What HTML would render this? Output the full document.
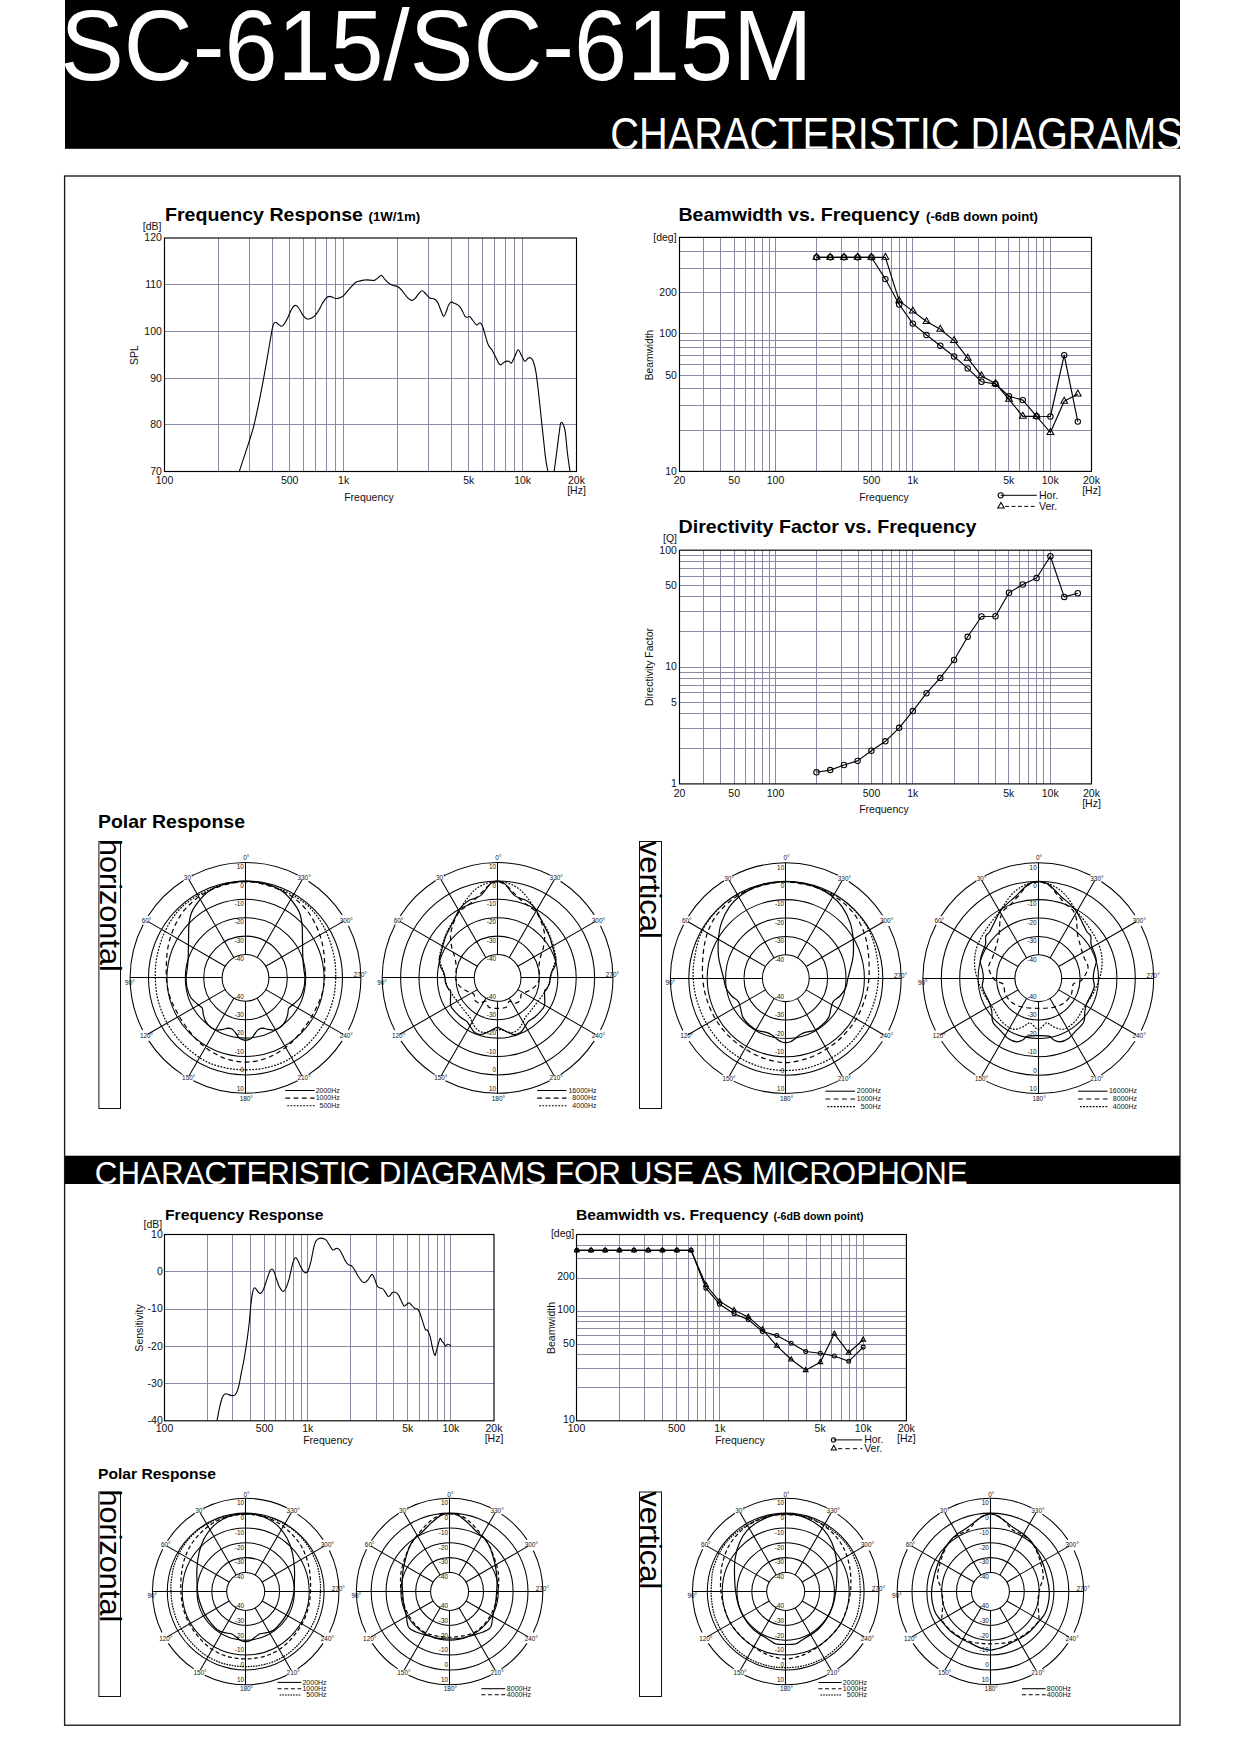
<!DOCTYPE html>
<html lang="en"><head><meta charset="utf-8"><title>SC-615/SC-615M Characteristic Diagrams</title>
<style>html,body{margin:0;padding:0;background:#fff}body{width:1240px;height:1753px;overflow:hidden}svg{display:block;font-family:"Liberation Sans",Arial,Helvetica,sans-serif}</style></head><body>
<svg width="1240" height="1753" viewBox="0 0 1240 1753">
<defs><clipPath id="cb1"><rect x="64" y="0" width="1116" height="148.8"/></clipPath><clipPath id="cb2"><rect x="64" y="1155.7" width="1116" height="28.3"/></clipPath></defs>
<rect x="65" y="0" width="1115" height="148.8" fill="#000"/>
<g clip-path="url(#cb1)">
<text x="60.3" y="79.7" font-size="100" textLength="752" lengthAdjust="spacingAndGlyphs" fill="#fff">SC-615/SC-615M</text>
<text x="1182.8" y="150.3" font-size="46" text-anchor="end" textLength="572.5" lengthAdjust="spacingAndGlyphs" fill="#fff">CHARACTERISTIC DIAGRAMS</text>
</g>
<rect x="64.6" y="176" width="1115.4" height="1549.2" fill="none" stroke="#1a1a1a" stroke-width="1.35"/>
<text x="165" y="220.5" font-size="19" font-weight="bold" textLength="198" lengthAdjust="spacingAndGlyphs" fill="#000">Frequency Response</text>
<text x="368.6" y="220.5" font-size="12" font-weight="bold" textLength="51.5" lengthAdjust="spacingAndGlyphs" fill="#000">(1W/1m)</text>
<text x="161.5" y="229.8" font-size="10.5" text-anchor="end" fill="#111">[dB]</text>
<path d="M218.5 238V471.5M249.5 238V471.5M272.5 238V471.5M289.5 238V471.5M303.5 238V471.5M315.5 238V471.5M326.5 238V471.5M335.5 238V471.5M343.5 238V471.5M397.5 238V471.5M428.5 238V471.5M451.5 238V471.5M468.5 238V471.5M482.5 238V471.5M494.5 238V471.5M505.5 238V471.5M514.5 238V471.5M522.5 238V471.5M164.5 424.5H576.5M164.5 378.5H576.5M164.5 331.5H576.5M164.5 284.5H576.5" stroke="#8a8aa6" stroke-width="1" fill="none"/>
<rect x="164.5" y="238" width="412" height="233.5" fill="none" stroke="#000" stroke-width="1.15"/>
<text x="164.5" y="484.1" font-size="10.5" text-anchor="middle" fill="#111">100</text>
<text x="289.7" y="484.1" font-size="10.5" text-anchor="middle" fill="#111">500</text>
<text x="343.6" y="484.1" font-size="10.5" text-anchor="middle" fill="#111">1k</text>
<text x="468.7" y="484.1" font-size="10.5" text-anchor="middle" fill="#111">5k</text>
<text x="522.6" y="484.1" font-size="10.5" text-anchor="middle" fill="#111">10k</text>
<text x="576.5" y="484.1" font-size="10.5" text-anchor="middle" fill="#111">20k</text>
<text x="576.5" y="494.1" font-size="10.5" text-anchor="middle" fill="#111">[Hz]</text>
<text x="161.9" y="241.4" font-size="10.5" text-anchor="end" fill="#111">120</text>
<text x="161.9" y="288.1" font-size="10.5" text-anchor="end" fill="#111">110</text>
<text x="161.9" y="334.8" font-size="10.5" text-anchor="end" fill="#111">100</text>
<text x="161.9" y="381.5" font-size="10.5" text-anchor="end" fill="#111">90</text>
<text x="161.9" y="428.2" font-size="10.5" text-anchor="end" fill="#111">80</text>
<text x="161.9" y="474.9" font-size="10.5" text-anchor="end" fill="#111">70</text>
<text x="369" y="501" font-size="10.5" text-anchor="middle" fill="#111">Frequency</text>
<text transform="translate(137.5 355) rotate(-90)" font-size="10.5" text-anchor="middle" fill="#111">SPL</text>
<path d="M239.3 471.3 C240.7 467 246.5 449.8 248.7 442.9 C250.9 436 252.4 431.6 254 425.2 C255.6 418.8 257.9 407.5 259.4 400.3 C260.8 393.1 262.5 384.5 263.8 377.3 C265.1 370.1 267 359.3 268.2 352.4 C269.4 345.5 271 335.4 271.8 331.1 C272.6 326.9 273 325.4 273.6 324 C274.1 322.7 274.9 322.2 275.7 322.3 C276.4 322.3 277.6 323.8 278.5 324.4 C279.4 325 280.7 326.4 281.5 326.3 C282.4 326.3 283.3 325.3 284.2 324 C285.1 322.8 286.7 320 287.8 317.8 C288.8 315.7 290.3 311.7 291.3 309.8 C292.3 308 293.5 306.4 294.3 305.8 C295.1 305.2 295.9 305.3 296.6 305.8 C297.4 306.2 298.4 307.5 299.3 309 C300.2 310.4 301.8 313.7 302.8 315.2 C303.9 316.6 305.3 318.2 306.4 318.7 C307.4 319.2 308.7 319.1 309.9 318.7 C311.1 318.3 313.2 317.1 314.4 316.1 C315.6 315 316.7 313.5 317.9 311.6 C319.1 309.8 321.2 305.6 322.3 303.6 C323.5 301.6 324.8 299.4 325.9 298.3 C327 297.2 328.4 296.5 329.4 296.4 C330.5 296.2 332.1 297.1 333 297.4 C333.9 297.7 334.7 298.4 335.7 298.5 C336.6 298.6 338 298.6 339.2 298.1 C340.4 297.7 342.2 297 343.6 295.6 C345.1 294.3 347.2 291.4 349 289.4 C350.7 287.5 353.6 283.9 355.2 282.7 C356.8 281.4 358 281.5 359.6 281.1 C361.2 280.7 364.1 280 365.8 279.9 C367.5 279.7 369.9 280.1 371.1 280.2 C372.4 280.3 373.4 280.7 374.4 280.4 C375.5 280 376.9 278.7 378 277.9 C379 277.1 380.5 275 381.5 275.2 C382.6 275.5 383.9 278.4 385.1 279.7 C386.3 281 388.2 282.9 389.5 283.8 C390.8 284.7 392.8 285.3 394 285.7 C395.2 286.1 396.3 285.7 397.5 286.4 C398.7 287.1 400.5 288.7 401.9 290.3 C403.4 292 405.8 295.9 407.3 297.4 C408.7 298.9 410.5 300.3 411.7 300.4 C412.9 300.6 414.2 299.3 415.2 298.3 C416.3 297.3 417.8 294.7 418.8 293.5 C419.8 292.4 421.1 290.8 422 290.7 C422.9 290.6 423.9 291.9 425 293 C426.1 294.1 428.1 296.9 429.4 297.8 C430.8 298.7 432.7 298.2 433.9 298.8 C435.1 299.5 436.4 300.1 437.4 301.9 C438.5 303.6 440 308.5 441 310.7 C441.9 312.9 442.9 316.1 443.6 316.4 C444.4 316.7 445.2 314.2 445.9 312.5 C446.7 310.9 447.7 307 448.4 305.4 C449.2 303.8 450.2 302.2 451.1 301.9 C452 301.5 453.3 302.8 454.3 303.3 C455.3 303.7 456.8 304.2 457.8 304.9 C458.8 305.6 459.8 306.4 460.8 308.1 C461.9 309.7 464 314.7 464.9 316.1 C465.9 317.4 466.5 317.2 467.2 317.3 C468 317.4 468.9 316.1 469.7 316.6 C470.6 317.1 471.9 319.2 472.9 320.5 C473.9 321.7 475.4 324.6 476.5 324.9 C477.5 325.3 479.1 322.5 480 322.8 C480.9 323.1 481.9 324.8 482.7 326.7 C483.5 328.6 484.5 332.8 485.3 335.6 C486.2 338.4 487.5 343.1 488.5 345.3 C489.6 347.6 491.3 348.8 492.4 350.7 C493.5 352.5 494.8 355.6 496 357.8 C497.1 359.9 498.7 364.3 500.1 364.8 C501.4 365.4 503.5 362.2 504.8 361.7 C506.2 361.1 507.9 361.1 508.9 361.3 C509.9 361.5 510.6 363.7 511.4 363.1 C512.3 362.4 513.6 358.9 514.6 356.9 C515.6 354.9 517.1 349.9 518.2 349.8 C519.2 349.6 520.7 354.2 521.7 356 C522.7 357.7 524 361 524.9 361.3 C525.8 361.6 527.1 358.8 527.9 358.3 C528.8 357.8 529.8 357.3 530.6 357.8 C531.4 358.2 532.4 359.2 533.2 361.3 C534 363.4 535.1 367.2 535.9 371.9 C536.7 376.7 537.8 386.3 538.6 393.2 C539.4 400.2 540.4 410.6 541.2 418.1 C542 425.5 543.2 436.8 543.9 442.9 C544.5 449 545.1 454.6 545.7 458.9 C546.2 463.1 547.5 469.4 547.8 471.3" fill="none" stroke="#000" stroke-width="1.1" stroke-linejoin="round"/>
<path d="M554.2 471.3 C554.6 468.2 556.5 453.7 557.2 448.2 C557.9 442.8 559 433.9 559.5 430.5 C560 427.1 560.3 423.8 560.7 422.9 C561.2 422 562.3 422.6 562.9 423.8 C563.5 424.9 564.6 427.6 565.2 431.4 C565.8 435.1 566.7 446.5 567.3 451.8 C567.9 457.1 569.6 468.7 570 471.3" fill="none" stroke="#000" stroke-width="1.1" stroke-linejoin="round"/>
<text x="678.5" y="220.5" font-size="19" font-weight="bold" textLength="241" lengthAdjust="spacingAndGlyphs" fill="#000">Beamwidth vs. Frequency</text>
<text x="926" y="220.5" font-size="12" font-weight="bold" textLength="112" lengthAdjust="spacingAndGlyphs" fill="#000">(-6dB down point)</text>
<text x="676.6" y="241.3" font-size="10.5" text-anchor="end" fill="#111">[deg]</text>
<path d="M703.5 237.4V471.4M720.5 237.4V471.4M734.5 237.4V471.4M745.5 237.4V471.4M754.5 237.4V471.4M762.5 237.4V471.4M769.5 237.4V471.4M775.5 237.4V471.4M816.5 237.4V471.4M841.5 237.4V471.4M858.5 237.4V471.4M871.5 237.4V471.4M882.5 237.4V471.4M891.5 237.4V471.4M899.5 237.4V471.4M906.5 237.4V471.4M912.5 237.4V471.4M954.5 237.4V471.4M978.5 237.4V471.4M995.5 237.4V471.4M1008.5 237.4V471.4M1019.5 237.4V471.4M1028.5 237.4V471.4M1036.5 237.4V471.4M1043.5 237.4V471.4M1050.5 237.4V471.4M679.5 430.5H1091.5M679.5 405.5H1091.5M679.5 388.5H1091.5M679.5 375.5H1091.5M679.5 364.5H1091.5M679.5 355.5H1091.5M679.5 347.5H1091.5M679.5 340.5H1091.5M679.5 333.5H1091.5M679.5 292.5H1091.5M679.5 268.5H1091.5M679.5 251.5H1091.5M679.5 237.5H1091.5" stroke="#8a8aa6" stroke-width="1" fill="none"/>
<rect x="679.5" y="237.4" width="412" height="234" fill="none" stroke="#000" stroke-width="1.15"/>
<text x="679.5" y="484" font-size="10.5" text-anchor="middle" fill="#111">20</text>
<text x="734.2" y="484" font-size="10.5" text-anchor="middle" fill="#111">50</text>
<text x="775.5" y="484" font-size="10.5" text-anchor="middle" fill="#111">100</text>
<text x="871.5" y="484" font-size="10.5" text-anchor="middle" fill="#111">500</text>
<text x="912.8" y="484" font-size="10.5" text-anchor="middle" fill="#111">1k</text>
<text x="1008.8" y="484" font-size="10.5" text-anchor="middle" fill="#111">5k</text>
<text x="1050.2" y="484" font-size="10.5" text-anchor="middle" fill="#111">10k</text>
<text x="1091.5" y="484" font-size="10.5" text-anchor="middle" fill="#111">20k</text>
<text x="1091.5" y="494" font-size="10.5" text-anchor="middle" fill="#111">[Hz]</text>
<text x="676.9" y="295.9" font-size="10.5" text-anchor="end" fill="#111">200</text>
<text x="676.9" y="337.3" font-size="10.5" text-anchor="end" fill="#111">100</text>
<text x="676.9" y="378.7" font-size="10.5" text-anchor="end" fill="#111">50</text>
<text x="676.9" y="474.8" font-size="10.5" text-anchor="end" fill="#111">10</text>
<text x="884" y="501" font-size="10.5" text-anchor="middle" fill="#111">Frequency</text>
<text transform="translate(653 355) rotate(-90)" font-size="10.5" text-anchor="middle" fill="#111" textLength="50.5" lengthAdjust="spacingAndGlyphs">Beamwidth</text>
<path d="M816.5 257.3 L830.2 257.3 L844 257.3 L857.6 257.3 L871.4 257.3 L885.4 279.1 L899.2 304.5 L912.8 323.6 L926.5 335 L940.3 345.7 L954.1 356.5 L967.7 368.4 L981.5 381.7 L995.5 383.9 L1009 396.2 L1022.8 400.1 L1036.6 416.3 L1050.4 416.5 L1064.2 355.1 L1077.8 421.6" fill="none" stroke="#000" stroke-width="1.15" stroke-linejoin="round"/>
<path d="M816.5 257.3 L830.2 257.3 L844 257.3 L857.6 257.3 L871.4 257.3 L885.4 257.3 L899.2 300.9 L912.8 311.1 L926.5 321.5 L940.3 329.2 L954.1 340.6 L967.7 358.2 L981.5 375.9 L995.5 383.6 L1009 399.4 L1022.8 416.3 L1036.6 416.3 L1050.4 432.5 L1064.2 401.3 L1077.8 394" fill="none" stroke="#000" stroke-width="1.15" stroke-linejoin="round"/>
<circle cx="816.5" cy="257.3" r="2.7" fill="none" stroke="#000" stroke-width="1.05"/>
<circle cx="830.2" cy="257.3" r="2.7" fill="none" stroke="#000" stroke-width="1.05"/>
<circle cx="844" cy="257.3" r="2.7" fill="none" stroke="#000" stroke-width="1.05"/>
<circle cx="857.6" cy="257.3" r="2.7" fill="none" stroke="#000" stroke-width="1.05"/>
<circle cx="871.4" cy="257.3" r="2.7" fill="none" stroke="#000" stroke-width="1.05"/>
<circle cx="885.4" cy="279.1" r="2.7" fill="none" stroke="#000" stroke-width="1.05"/>
<circle cx="899.2" cy="304.5" r="2.7" fill="none" stroke="#000" stroke-width="1.05"/>
<circle cx="912.8" cy="323.6" r="2.7" fill="none" stroke="#000" stroke-width="1.05"/>
<circle cx="926.5" cy="335" r="2.7" fill="none" stroke="#000" stroke-width="1.05"/>
<circle cx="940.3" cy="345.7" r="2.7" fill="none" stroke="#000" stroke-width="1.05"/>
<circle cx="954.1" cy="356.5" r="2.7" fill="none" stroke="#000" stroke-width="1.05"/>
<circle cx="967.7" cy="368.4" r="2.7" fill="none" stroke="#000" stroke-width="1.05"/>
<circle cx="981.5" cy="381.7" r="2.7" fill="none" stroke="#000" stroke-width="1.05"/>
<circle cx="995.5" cy="383.9" r="2.7" fill="none" stroke="#000" stroke-width="1.05"/>
<circle cx="1009" cy="396.2" r="2.7" fill="none" stroke="#000" stroke-width="1.05"/>
<circle cx="1022.8" cy="400.1" r="2.7" fill="none" stroke="#000" stroke-width="1.05"/>
<circle cx="1036.6" cy="416.3" r="2.7" fill="none" stroke="#000" stroke-width="1.05"/>
<circle cx="1050.4" cy="416.5" r="2.7" fill="none" stroke="#000" stroke-width="1.05"/>
<circle cx="1064.2" cy="355.1" r="2.7" fill="none" stroke="#000" stroke-width="1.05"/>
<circle cx="1077.8" cy="421.6" r="2.7" fill="none" stroke="#000" stroke-width="1.05"/>
<path d="M816.5 253.3L819.9 259.3L813.1 259.3Z" fill="none" stroke="#000" stroke-width="1.05"/>
<path d="M830.2 253.3L833.6 259.3L826.8 259.3Z" fill="none" stroke="#000" stroke-width="1.05"/>
<path d="M844 253.3L847.4 259.3L840.6 259.3Z" fill="none" stroke="#000" stroke-width="1.05"/>
<path d="M857.6 253.3L861 259.3L854.2 259.3Z" fill="none" stroke="#000" stroke-width="1.05"/>
<path d="M871.4 253.3L874.8 259.3L868 259.3Z" fill="none" stroke="#000" stroke-width="1.05"/>
<path d="M885.4 253.3L888.8 259.3L882 259.3Z" fill="none" stroke="#000" stroke-width="1.05"/>
<path d="M899.2 296.9L902.6 302.8L895.8 302.8Z" fill="none" stroke="#000" stroke-width="1.05"/>
<path d="M912.8 307.1L916.2 313L909.4 313Z" fill="none" stroke="#000" stroke-width="1.05"/>
<path d="M926.5 317.5L929.9 323.4L923.1 323.4Z" fill="none" stroke="#000" stroke-width="1.05"/>
<path d="M940.3 325.2L943.7 331.2L936.9 331.2Z" fill="none" stroke="#000" stroke-width="1.05"/>
<path d="M954.1 336.6L957.5 342.5L950.7 342.5Z" fill="none" stroke="#000" stroke-width="1.05"/>
<path d="M967.7 354.2L971.1 360.2L964.3 360.2Z" fill="none" stroke="#000" stroke-width="1.05"/>
<path d="M981.5 371.9L984.9 377.8L978.1 377.8Z" fill="none" stroke="#000" stroke-width="1.05"/>
<path d="M995.5 379.6L998.9 385.6L992.1 385.6Z" fill="none" stroke="#000" stroke-width="1.05"/>
<path d="M1009 395.4L1012.4 401.3L1005.6 401.3Z" fill="none" stroke="#000" stroke-width="1.05"/>
<path d="M1022.8 412.3L1026.2 418.3L1019.4 418.3Z" fill="none" stroke="#000" stroke-width="1.05"/>
<path d="M1036.6 412.3L1040 418.3L1033.2 418.3Z" fill="none" stroke="#000" stroke-width="1.05"/>
<path d="M1050.4 428.5L1053.8 434.5L1047 434.5Z" fill="none" stroke="#000" stroke-width="1.05"/>
<path d="M1064.2 397.3L1067.6 403.3L1060.8 403.3Z" fill="none" stroke="#000" stroke-width="1.05"/>
<path d="M1077.8 390L1081.2 396L1074.4 396Z" fill="none" stroke="#000" stroke-width="1.05"/>
<path d="M1000.7 495.3H1036.8" stroke="#000" stroke-width="1"/>
<circle cx="1000.7" cy="495.3" r="2.6" fill="none" stroke="#000" stroke-width="1.05"/>
<path d="M1005.1 506.4H1036.8" stroke="#000" stroke-width="1" stroke-dasharray="3.9 2.5"/>
<path d="M1001 502.4L1004.2 508L997.8 508Z" fill="none" stroke="#000" stroke-width="1.05"/>
<text x="1039" y="498.6" font-size="10.5" fill="#111">Hor.</text>
<text x="1039" y="509.8" font-size="10.5" fill="#111">Ver.</text>
<text x="678.5" y="532.5" font-size="19" font-weight="bold" textLength="298" lengthAdjust="spacingAndGlyphs" fill="#000">Directivity Factor vs. Frequency</text>
<text x="677" y="541.8" font-size="10.5" text-anchor="end" fill="#111">[Q]</text>
<path d="M703.5 550.2V783.9M720.5 550.2V783.9M734.5 550.2V783.9M745.5 550.2V783.9M754.5 550.2V783.9M762.5 550.2V783.9M769.5 550.2V783.9M775.5 550.2V783.9M816.5 550.2V783.9M841.5 550.2V783.9M858.5 550.2V783.9M871.5 550.2V783.9M882.5 550.2V783.9M891.5 550.2V783.9M899.5 550.2V783.9M906.5 550.2V783.9M912.5 550.2V783.9M954.5 550.2V783.9M978.5 550.2V783.9M995.5 550.2V783.9M1008.5 550.2V783.9M1019.5 550.2V783.9M1028.5 550.2V783.9M1036.5 550.2V783.9M1043.5 550.2V783.9M1050.5 550.2V783.9M679.5 748.5H1091.5M679.5 728.5H1091.5M679.5 713.5H1091.5M679.5 702.5H1091.5M679.5 692.5H1091.5M679.5 685.5H1091.5M679.5 678.5H1091.5M679.5 672.5H1091.5M679.5 667.5H1091.5M679.5 631.5H1091.5M679.5 611.5H1091.5M679.5 596.5H1091.5M679.5 585.5H1091.5M679.5 576.5H1091.5M679.5 568.5H1091.5M679.5 561.5H1091.5M679.5 555.5H1091.5" stroke="#8a8aa6" stroke-width="1" fill="none"/>
<rect x="679.5" y="550.2" width="412" height="233.7" fill="none" stroke="#000" stroke-width="1.15"/>
<text x="679.5" y="796.8" font-size="10.5" text-anchor="middle" fill="#111">20</text>
<text x="734.2" y="796.8" font-size="10.5" text-anchor="middle" fill="#111">50</text>
<text x="775.5" y="796.8" font-size="10.5" text-anchor="middle" fill="#111">100</text>
<text x="871.5" y="796.8" font-size="10.5" text-anchor="middle" fill="#111">500</text>
<text x="912.8" y="796.8" font-size="10.5" text-anchor="middle" fill="#111">1k</text>
<text x="1008.8" y="796.8" font-size="10.5" text-anchor="middle" fill="#111">5k</text>
<text x="1050.2" y="796.8" font-size="10.5" text-anchor="middle" fill="#111">10k</text>
<text x="1091.5" y="796.8" font-size="10.5" text-anchor="middle" fill="#111">20k</text>
<text x="1091.5" y="806.7" font-size="10.5" text-anchor="middle" fill="#111">[Hz]</text>
<text x="676.9" y="553.6" font-size="10.5" text-anchor="end" fill="#111">100</text>
<text x="676.9" y="588.8" font-size="10.5" text-anchor="end" fill="#111">50</text>
<text x="676.9" y="670.4" font-size="10.5" text-anchor="end" fill="#111">10</text>
<text x="676.9" y="705.6" font-size="10.5" text-anchor="end" fill="#111">5</text>
<text x="676.9" y="787.3" font-size="10.5" text-anchor="end" fill="#111">1</text>
<text x="884" y="813" font-size="10.5" text-anchor="middle" fill="#111">Frequency</text>
<text transform="translate(653 667) rotate(-90)" font-size="10.5" text-anchor="middle" fill="#111">Directivity Factor</text>
<path d="M816.5 772.3 L830.2 770.1 L844 765 L857.6 760.9 L871.4 750.7 L885.4 741.3 L899.2 727.8 L912.8 711.1 L926.5 693.2 L940.3 677.9 L954.1 660 L967.7 636.8 L981.5 616.5 L995.5 616.2 L1009 592.7 L1022.8 584.5 L1036.6 578 L1050.4 556.2 L1064.2 596.9 L1077.8 593.2" fill="none" stroke="#000" stroke-width="1.15" stroke-linejoin="round"/>
<circle cx="816.5" cy="772.3" r="2.7" fill="none" stroke="#000" stroke-width="1.05"/>
<circle cx="830.2" cy="770.1" r="2.7" fill="none" stroke="#000" stroke-width="1.05"/>
<circle cx="844" cy="765" r="2.7" fill="none" stroke="#000" stroke-width="1.05"/>
<circle cx="857.6" cy="760.9" r="2.7" fill="none" stroke="#000" stroke-width="1.05"/>
<circle cx="871.4" cy="750.7" r="2.7" fill="none" stroke="#000" stroke-width="1.05"/>
<circle cx="885.4" cy="741.3" r="2.7" fill="none" stroke="#000" stroke-width="1.05"/>
<circle cx="899.2" cy="727.8" r="2.7" fill="none" stroke="#000" stroke-width="1.05"/>
<circle cx="912.8" cy="711.1" r="2.7" fill="none" stroke="#000" stroke-width="1.05"/>
<circle cx="926.5" cy="693.2" r="2.7" fill="none" stroke="#000" stroke-width="1.05"/>
<circle cx="940.3" cy="677.9" r="2.7" fill="none" stroke="#000" stroke-width="1.05"/>
<circle cx="954.1" cy="660" r="2.7" fill="none" stroke="#000" stroke-width="1.05"/>
<circle cx="967.7" cy="636.8" r="2.7" fill="none" stroke="#000" stroke-width="1.05"/>
<circle cx="981.5" cy="616.5" r="2.7" fill="none" stroke="#000" stroke-width="1.05"/>
<circle cx="995.5" cy="616.2" r="2.7" fill="none" stroke="#000" stroke-width="1.05"/>
<circle cx="1009" cy="592.7" r="2.7" fill="none" stroke="#000" stroke-width="1.05"/>
<circle cx="1022.8" cy="584.5" r="2.7" fill="none" stroke="#000" stroke-width="1.05"/>
<circle cx="1036.6" cy="578" r="2.7" fill="none" stroke="#000" stroke-width="1.05"/>
<circle cx="1050.4" cy="556.2" r="2.7" fill="none" stroke="#000" stroke-width="1.05"/>
<circle cx="1064.2" cy="596.9" r="2.7" fill="none" stroke="#000" stroke-width="1.05"/>
<circle cx="1077.8" cy="593.2" r="2.7" fill="none" stroke="#000" stroke-width="1.05"/>
<text x="98" y="828" font-size="19" font-weight="bold" textLength="147" lengthAdjust="spacingAndGlyphs" fill="#000">Polar Response</text>
<clipPath id="vb940"><rect x="97.9" y="841" width="26" height="267.5"/></clipPath>
<rect x="98.9" y="841.5" width="21.6" height="267" fill="#fff" stroke="#111" stroke-width="1"/>
<g clip-path="url(#vb940)"><text transform="translate(100 839) rotate(90)" font-size="30" fill="#000" textLength="132.7" lengthAdjust="spacingAndGlyphs">horizontal</text></g>
<clipPath id="vb1481"><rect x="638.5" y="841" width="26" height="267.5"/></clipPath>
<rect x="639.5" y="841.5" width="22" height="267" fill="#fff" stroke="#111" stroke-width="1"/>
<g clip-path="url(#vb1481)"><text transform="translate(639.8 840.7) rotate(90)" font-size="30" fill="#000" textLength="98.3" lengthAdjust="spacingAndGlyphs">vertical</text></g>
<circle cx="245.5" cy="977.9" r="23.4" fill="none" stroke="#000" stroke-width="1.05"/>
<circle cx="245.5" cy="977.9" r="41.8" fill="none" stroke="#000" stroke-width="1.05"/>
<circle cx="245.5" cy="977.9" r="60.2" fill="none" stroke="#000" stroke-width="1.05"/>
<circle cx="245.5" cy="977.9" r="78.6" fill="none" stroke="#000" stroke-width="1.05"/>
<circle cx="245.5" cy="977.9" r="97" fill="none" stroke="#000" stroke-width="1.05"/>
<path d="M183.6 880.5A115.4 115.4 0 0 0 148.1 916M143.2 924.5A115.4 115.4 0 0 0 142.6 1030.1M148.8 1040.9A115.4 115.4 0 0 0 182.5 1074.6M193.3 1080.8A115.4 115.4 0 0 0 297.7 1080.8M308.5 1074.6A115.4 115.4 0 0 0 342.2 1040.9M348.4 1030.1A115.4 115.4 0 0 0 348.4 925.7M342.2 914.9A115.4 115.4 0 0 0 308.5 881.2M297.7 875A115.4 115.4 0 0 0 192.1 875.6" fill="none" stroke="#000" stroke-width="1.05"/>
<path d="M245.5 954.5L245.5 862.5M233.8 957.6L189.1 880.1M225.2 966.2L147.7 921.4M222.1 977.5L130.1 977.5M225.2 989.6L147.7 1034.3M233.8 998.2L189.1 1075.7M245.5 1001.3L245.5 1093.3M257.2 998.2L302 1075.7M265.8 989.6L343.3 1034.4M268.9 977.5L360.9 977.5M265.8 966.2L343.3 921.4M257.2 957.6L302 880.1" fill="none" stroke="#000" stroke-width="1.05"/>
<path d="M245.6 881.2 C241.4 881.2 237 881.6 232.9 882.3 C228.8 882.9 224.8 883.8 220.8 885.3 C216.8 886.8 212.4 888.6 208.7 891.3 C205 894 201.5 897.9 198.6 901.4 C195.8 904.9 193.2 908.6 191.6 912.5 C190 916.4 189.5 919.9 189 924.6 C188.4 929.3 188.7 935 188.5 940.7 C188.4 946.4 188.4 953.8 188.1 958.9 C187.9 963.9 187.3 967.9 186.9 971 C186.6 974.1 186.1 974.7 186.1 977.4 C186.1 980.1 186.2 983.8 186.9 987.1 C187.7 990.4 188.8 994.3 190.6 997.2 C192.3 1000 195.7 1002.4 197.6 1004.2 C199.6 1006.1 201.3 1006.6 202.3 1008.3 C203.2 1009.9 202.7 1012.1 203.3 1014.3 C203.8 1016.5 204.4 1019.2 205.7 1021.4 C206.9 1023.6 208.9 1026 210.7 1027.4 C212.6 1028.9 214.8 1029.7 216.8 1030 C218.8 1030.4 221 1029.7 222.8 1029.4 C224.7 1029.1 226.4 1028.3 227.9 1028.2 C229.4 1028.2 230.7 1028.3 231.9 1029 C233.1 1029.7 234.1 1031 235.3 1032.5 C236.5 1033.9 237.7 1036.7 239 1037.9 C240.2 1039.1 241.9 1039.5 243 1039.9 C244.1 1040.3 244.8 1040.3 245.6 1040.3 C246.4 1040.3 246.9 1040.3 248 1039.9 C249.1 1039.5 250.8 1039.1 252 1037.9 C253.3 1036.7 254.5 1033.9 255.7 1032.5 C256.9 1031 257.9 1029.7 259.1 1029 C260.3 1028.3 261.6 1028.2 263.1 1028.2 C264.6 1028.3 266.3 1029.1 268.2 1029.4 C270 1029.7 272.2 1030.4 274.2 1030 C276.2 1029.7 278.4 1028.9 280.3 1027.4 C282.1 1026 284.1 1023.6 285.3 1021.4 C286.6 1019.2 287.2 1016.5 287.7 1014.3 C288.3 1012.1 287.8 1009.9 288.7 1008.3 C289.7 1006.6 291.4 1006.1 293.4 1004.2 C295.3 1002.4 298.7 1000 300.4 997.2 C302.2 994.3 303.3 990.4 304.1 987.1 C304.8 983.8 304.9 980.1 304.9 977.4 C304.9 974.7 304.4 974.1 304.1 971 C303.7 967.9 303.1 963.9 302.9 958.9 C302.6 953.8 302.6 946.4 302.5 940.7 C302.3 935 302.6 929.3 302 924.6 C301.5 919.9 301 916.4 299.4 912.5 C297.8 908.6 295.2 904.9 292.4 901.4 C289.5 897.9 286 894 282.3 891.3 C278.6 888.6 274.2 886.8 270.2 885.3 C266.2 883.8 262.2 882.9 258.1 882.3 C254 881.6 249.8 881.2 245.6 881.2Z" fill="none" stroke="#000" stroke-width="1.2" stroke-linejoin="round"/>
<path d="M245.6 881.7 C240.1 881.7 234.3 882.6 228.9 883.9 C223.4 885.1 218.1 886.9 212.7 889.3 C207.4 891.7 201.7 894.5 196.6 898.4 C191.6 902.3 186.5 907.1 182.5 912.5 C178.5 917.9 175.3 924.3 172.8 930.6 C170.3 937 168.5 943 167.4 950.8 C166.3 958.6 166 970 166.4 977.4 C166.7 984.8 167.7 989.5 169.4 995.2 C171.1 1000.8 173.6 1005.9 176.5 1011.3 C179.3 1016.7 182.5 1022 186.5 1027.4 C190.6 1032.8 195.9 1039.2 200.6 1043.5 C205.3 1047.9 210.1 1050.9 214.8 1053.6 C219.5 1056.3 223.7 1058.3 228.9 1059.7 C234 1061.1 240.1 1062.1 245.6 1062.1 C251.1 1062.1 257 1061.1 262.1 1059.7 C267.2 1058.3 271.5 1056.3 276.2 1053.6 C280.9 1050.9 285.7 1047.9 290.4 1043.5 C295.1 1039.2 300.4 1032.8 304.5 1027.4 C308.5 1022 311.7 1016.7 314.5 1011.3 C317.4 1005.9 319.9 1000.8 321.6 995.2 C323.3 989.5 324.3 984.8 324.6 977.4 C325 970 324.7 958.6 323.6 950.8 C322.5 943 320.7 937 318.2 930.6 C315.7 924.3 312.5 917.9 308.5 912.5 C304.5 907.1 299.4 902.3 294.4 898.4 C289.3 894.5 283.6 891.7 278.3 889.3 C272.9 886.9 267.6 885.1 262.1 883.9 C256.7 882.6 251.1 881.7 245.6 881.7Z" fill="none" stroke="#000" stroke-width="1.2" stroke-dasharray="4.8 3.5" stroke-linejoin="round"/>
<path d="M245.6 881.7 C240.1 881.7 234.3 882.2 228.9 883.3 C223.4 884.4 218.5 886 212.7 888.3 C207 890.7 200.3 893.7 194.6 897.4 C188.9 901.1 183.3 904.9 178.5 910.5 C173.6 916 168.9 923.3 165.4 930.6 C161.8 938 159 947 157.3 954.8 C155.6 962.6 155.1 969.7 155.3 977.4 C155.5 985.1 156.1 993.2 158.3 1001.2 C160.5 1009.2 164 1018 168.4 1025.4 C172.8 1032.8 178.5 1039.7 184.5 1045.6 C190.6 1051.4 198 1057 204.7 1060.7 C211.4 1064.4 218 1066.2 224.8 1067.7 C231.7 1069.3 238.7 1069.8 245.6 1069.8 C252.5 1069.8 259.4 1069.3 266.2 1067.7 C272.9 1066.2 279.6 1064.4 286.3 1060.7 C293 1057 300.4 1051.4 306.5 1045.6 C312.5 1039.7 318.2 1032.8 322.6 1025.4 C327 1018 330.5 1009.2 332.7 1001.2 C334.9 993.2 335.5 985.1 335.7 977.4 C335.9 969.7 335.4 962.6 333.7 954.8 C332 947 329.2 938 325.6 930.6 C322.1 923.3 317.4 916 312.5 910.5 C307.7 904.9 302.1 901.1 296.4 897.4 C290.7 893.7 284 890.7 278.3 888.3 C272.5 886 267.6 884.4 262.1 883.3 C256.7 882.2 251.1 881.7 245.6 881.7Z" fill="none" stroke="#000" stroke-width="1.2" stroke-dasharray="1.8 1.4" stroke-linejoin="round"/>
<text x="243.9" y="961.2" font-size="6.4" text-anchor="end" fill="#111">-40</text>
<text x="243.9" y="998.6" font-size="6.4" text-anchor="end" fill="#111">-40</text>
<text x="243.9" y="942.8" font-size="6.4" text-anchor="end" fill="#111">-30</text>
<text x="243.9" y="1017" font-size="6.4" text-anchor="end" fill="#111">-30</text>
<text x="243.9" y="924.4" font-size="6.4" text-anchor="end" fill="#111">-20</text>
<text x="243.9" y="1035.4" font-size="6.4" text-anchor="end" fill="#111">-20</text>
<text x="243.9" y="906" font-size="6.4" text-anchor="end" fill="#111">-10</text>
<text x="243.9" y="1053.8" font-size="6.4" text-anchor="end" fill="#111">-10</text>
<text x="243.9" y="887.6" font-size="6.4" text-anchor="end" fill="#111">0</text>
<text x="243.9" y="1072.2" font-size="6.4" text-anchor="end" fill="#111">0</text>
<text x="243.9" y="869.2" font-size="6.4" text-anchor="end" fill="#111">10</text>
<text x="243.9" y="1090.6" font-size="6.4" text-anchor="end" fill="#111">10</text>
<text x="188.7" y="880.4" font-size="6.4" text-anchor="middle" fill="#111">30°</text>
<text x="146.5" y="922.6" font-size="6.4" text-anchor="middle" fill="#111">60°</text>
<text x="146.5" y="1038" font-size="6.4" text-anchor="middle" fill="#111">120°</text>
<text x="188.7" y="1080.2" font-size="6.4" text-anchor="middle" fill="#111">150°</text>
<text x="304.1" y="1080.2" font-size="6.4" text-anchor="middle" fill="#111">210°</text>
<text x="346.3" y="1038" font-size="6.4" text-anchor="middle" fill="#111">240°</text>
<text x="346.3" y="922.6" font-size="6.4" text-anchor="middle" fill="#111">300°</text>
<text x="304.1" y="880.4" font-size="6.4" text-anchor="middle" fill="#111">330°</text>
<text x="246.3" y="859.9" font-size="6.4" text-anchor="middle" fill="#111">0°</text>
<text x="246.3" y="1101.1" font-size="6.4" text-anchor="middle" fill="#111">180°</text>
<text x="125.1" y="984.5" font-size="6.4" fill="#111">90°</text>
<text x="366.9" y="977.3" font-size="6.4" text-anchor="end" fill="#111">270°</text>
<path d="M285.3 1090.5H314.6" stroke="#000" stroke-width="1.05"/>
<text x="339.8" y="1092.6" font-size="7" text-anchor="end" fill="#111">2000Hz</text>
<path d="M285.3 1098.1H314.6" stroke="#000" stroke-width="1.05" stroke-dasharray="4.8 3.5"/>
<text x="339.8" y="1100.2" font-size="7" text-anchor="end" fill="#111">1000Hz</text>
<path d="M287.3 1105.7H314.6" stroke="#000" stroke-width="1.05" stroke-dasharray="1.8 1.4"/>
<text x="339.8" y="1107.8" font-size="7" text-anchor="end" fill="#111">500Hz</text>
<circle cx="497.6" cy="977.9" r="23.4" fill="none" stroke="#000" stroke-width="1.05"/>
<circle cx="497.6" cy="977.9" r="41.8" fill="none" stroke="#000" stroke-width="1.05"/>
<circle cx="497.6" cy="977.9" r="60.2" fill="none" stroke="#000" stroke-width="1.05"/>
<circle cx="497.6" cy="977.9" r="78.6" fill="none" stroke="#000" stroke-width="1.05"/>
<circle cx="497.6" cy="977.9" r="97" fill="none" stroke="#000" stroke-width="1.05"/>
<path d="M435.7 880.5A115.4 115.4 0 0 0 400.2 916M395.3 924.5A115.4 115.4 0 0 0 394.7 1030.1M400.9 1040.9A115.4 115.4 0 0 0 434.6 1074.6M445.4 1080.8A115.4 115.4 0 0 0 549.8 1080.8M560.6 1074.6A115.4 115.4 0 0 0 594.3 1040.9M600.5 1030.1A115.4 115.4 0 0 0 600.5 925.7M594.3 914.9A115.4 115.4 0 0 0 560.6 881.2M549.8 875A115.4 115.4 0 0 0 444.2 875.6" fill="none" stroke="#000" stroke-width="1.05"/>
<path d="M497.5 954.5L497.5 862.5M485.9 957.6L441.2 880.1M477.3 966.2L399.8 921.4M474.2 977.5L382.2 977.5M477.3 989.6L399.8 1034.3M485.9 998.2L441.2 1075.7M497.5 1001.3L497.5 1093.3M509.3 998.2L554.1 1075.7M517.9 989.6L595.4 1034.4M521 977.5L613 977.5M517.9 966.2L595.4 921.4M509.3 957.6L554.1 880.1" fill="none" stroke="#000" stroke-width="1.05"/>
<path d="M497.4 881.2 C495.2 881.2 492.9 881.9 491 883.3 C489.1 884.6 487.6 887.3 485.9 889.3 C484.2 891.3 482.7 893.9 480.9 895.4 C479 896.9 476.9 897.5 474.8 898.4 C472.8 899.2 470.8 899.2 468.8 900.4 C466.8 901.6 464.4 903.8 462.7 905.4 C461.1 907.1 460.1 908.3 458.7 910.5 C457.4 912.7 456.2 915.5 454.7 918.5 C453.2 921.6 451.1 925.6 449.6 928.6 C448.1 931.7 446.8 933.7 445.6 936.7 C444.4 939.7 443.4 943.8 442.6 946.8 C441.7 949.8 441.1 952.7 440.6 954.8 C440 957 439.2 957.9 439.2 959.9 C439.2 961.9 439.8 964.9 440.6 966.9 C441.3 969 442.8 970.2 443.6 972 C444.3 973.7 444.7 975.6 445 977.4 C445.3 979.3 445 981.1 445.6 983.1 C446.2 985 447.8 987.8 448.6 989.1 C449.5 990.5 450.3 988.4 450.6 991.1 C451 993.8 450 1001.9 450.6 1005.2 C451.3 1008.6 453 1009.3 454.7 1011.3 C456.4 1013.3 458.7 1015.7 460.7 1017.3 C462.7 1019 465.1 1019.7 466.8 1021.4 C468.5 1023.1 469.5 1025.6 470.8 1027.4 C472.2 1029.3 473.2 1031.3 474.8 1032.5 C476.5 1033.6 478.9 1034.5 480.9 1034.5 C482.9 1034.5 484.9 1033.3 486.9 1032.5 C489 1031.6 491.2 1030.3 493 1029.4 C494.7 1028.6 495.9 1027.4 497.4 1027.4 C499 1027.4 500.4 1028.6 502.2 1029.4 C504 1030.3 506.2 1031.6 508.3 1032.5 C510.3 1033.3 512.3 1034.5 514.3 1034.5 C516.3 1034.5 518.7 1033.6 520.4 1032.5 C522 1031.3 523 1029.3 524.4 1027.4 C525.7 1025.6 526.7 1023.1 528.4 1021.4 C530.1 1019.7 532.5 1019 534.5 1017.3 C536.5 1015.7 538.8 1013.3 540.5 1011.3 C542.2 1009.3 543.9 1008.6 544.6 1005.2 C545.2 1001.9 544.2 993.8 544.6 991.1 C544.9 988.4 545.7 990.5 546.6 989.1 C547.4 987.8 549 985 549.6 983.1 C550.2 981.1 549.9 979.3 550.2 977.4 C550.5 975.6 550.9 973.7 551.6 972 C552.4 970.2 553.9 969 554.6 966.9 C555.4 964.9 556 961.9 556 959.9 C556 957.9 555.2 957 554.6 954.8 C554.1 952.7 553.5 949.8 552.6 946.8 C551.8 943.8 550.8 939.7 549.6 936.7 C548.4 933.7 547.1 931.7 545.6 928.6 C544.1 925.6 542 921.6 540.5 918.5 C539 915.5 537.8 912.7 536.5 910.5 C535.1 908.3 534.1 907.1 532.5 905.4 C530.8 903.8 528.4 901.6 526.4 900.4 C524.4 899.2 522.4 899.2 520.4 898.4 C518.3 897.5 516.2 896.9 514.3 895.4 C512.5 893.9 511 891.3 509.3 889.3 C507.6 887.3 506.2 884.6 504.2 883.3 C502.3 881.9 499.6 881.2 497.4 881.2Z" fill="none" stroke="#000" stroke-width="1.2" stroke-linejoin="round"/>
<path d="M497.4 881.7 C494.5 881.7 491.7 883.3 489 885.3 C486.2 887.2 483.6 890.7 480.9 893.3 C478.2 896 475.5 899.1 472.8 901.4 C470.1 903.8 467.1 905.6 464.8 907.5 C462.4 909.3 460.6 910 458.7 912.5 C456.9 915 455 918.9 453.7 922.6 C452.3 926.3 451 930.6 450.6 934.7 C450.3 938.7 451 943.1 451.7 946.8 C452.3 950.5 453.9 953.5 454.7 956.9 C455.5 960.2 456.1 963.5 456.3 966.9 C456.5 970.4 455.3 974.4 455.7 977.4 C456.1 980.4 456.9 982.8 458.7 985.1 C460.6 987.4 464.3 989.6 466.8 991.1 C469.3 992.6 472.5 992.6 473.8 994.2 C475.2 995.7 473.8 998.7 474.8 1000.2 C475.8 1001.7 478 1003.1 479.9 1003.2 C481.7 1003.4 484.4 1000.5 485.9 1001.2 C487.4 1001.9 487 1006.1 489 1007.3 C490.9 1008.4 494.5 1008.3 497.4 1008.3 C500.3 1008.3 504.3 1008.4 506.2 1007.3 C508.2 1006.1 507.8 1001.9 509.3 1001.2 C510.8 1000.5 513.5 1003.4 515.3 1003.2 C517.2 1003.1 519.4 1001.7 520.4 1000.2 C521.4 998.7 520 995.7 521.4 994.2 C522.7 992.6 525.9 992.6 528.4 991.1 C530.9 989.6 534.6 987.4 536.5 985.1 C538.3 982.8 539.1 980.4 539.5 977.4 C539.9 974.4 538.7 970.4 538.9 966.9 C539.1 963.5 539.7 960.2 540.5 956.9 C541.3 953.5 542.9 950.5 543.5 946.8 C544.2 943.1 544.9 938.7 544.6 934.7 C544.2 930.6 542.9 926.3 541.5 922.6 C540.2 918.9 538.3 915 536.5 912.5 C534.6 910 532.8 909.3 530.4 907.5 C528.1 905.6 525.1 903.8 522.4 901.4 C519.7 899.1 517 896 514.3 893.3 C511.6 890.7 509.1 887.2 506.2 885.3 C503.4 883.3 500.3 881.7 497.4 881.7Z" fill="none" stroke="#000" stroke-width="1.2" stroke-dasharray="4.8 3.5" stroke-linejoin="round"/>
<path d="M497.4 881.7 C493.9 881.7 490.4 882.2 486.9 883.3 C483.5 884.4 479.9 886.1 476.9 888.3 C473.8 890.5 471.3 893.3 468.8 896.4 C466.3 899.4 464.1 902.8 461.7 906.5 C459.4 910.1 457 914.5 454.7 918.5 C452.3 922.6 449.5 926.9 447.6 930.6 C445.8 934.3 444.8 937.4 443.6 940.7 C442.4 944.1 441.2 947.6 440.6 950.8 C439.9 954 439.2 956.9 439.6 959.9 C439.9 962.9 441.7 966 442.6 969 C443.4 971.9 443.8 974.4 444.6 977.4 C445.4 980.4 446.3 984.1 447.6 987.1 C449 990.1 450.8 992.5 452.7 995.2 C454.5 997.8 456.7 1000.5 458.7 1003.2 C460.7 1005.9 462.9 1008.9 464.8 1011.3 C466.6 1013.6 468.5 1015.3 469.8 1017.3 C471.1 1019.4 471.6 1021.4 472.8 1023.4 C474 1025.4 475.2 1027.9 476.9 1029.4 C478.5 1030.9 480.9 1032.1 482.9 1032.5 C484.9 1032.8 487.1 1032 489 1031.5 C490.8 1030.9 492.6 1029.6 494 1029.4 C495.4 1029.3 496.2 1030.4 497.4 1030.4 C498.6 1030.4 499.7 1029.3 501.2 1029.4 C502.7 1029.6 504.4 1030.9 506.2 1031.5 C508.1 1032 510.3 1032.8 512.3 1032.5 C514.3 1032.1 516.7 1030.9 518.3 1029.4 C520 1027.9 521.2 1025.4 522.4 1023.4 C523.6 1021.4 524.1 1019.4 525.4 1017.3 C526.7 1015.3 528.6 1013.6 530.4 1011.3 C532.3 1008.9 534.5 1005.9 536.5 1003.2 C538.5 1000.5 540.7 997.8 542.5 995.2 C544.4 992.5 546.2 990.1 547.6 987.1 C548.9 984.1 549.8 980.4 550.6 977.4 C551.4 974.4 551.8 971.9 552.6 969 C553.5 966 555.3 962.9 555.6 959.9 C556 956.9 555.3 954 554.6 950.8 C554 947.6 552.8 944.1 551.6 940.7 C550.4 937.4 549.4 934.3 547.6 930.6 C545.7 926.9 542.9 922.6 540.5 918.5 C538.2 914.5 535.8 910.1 533.5 906.5 C531.1 902.8 528.9 899.4 526.4 896.4 C523.9 893.3 521.4 890.5 518.3 888.3 C515.3 886.1 511.8 884.4 508.3 883.3 C504.8 882.2 501 881.7 497.4 881.7Z" fill="none" stroke="#000" stroke-width="1.2" stroke-dasharray="1.8 1.4" stroke-linejoin="round"/>
<text x="496" y="961.2" font-size="6.4" text-anchor="end" fill="#111">-40</text>
<text x="496" y="998.6" font-size="6.4" text-anchor="end" fill="#111">-40</text>
<text x="496" y="942.8" font-size="6.4" text-anchor="end" fill="#111">-30</text>
<text x="496" y="1017" font-size="6.4" text-anchor="end" fill="#111">-30</text>
<text x="496" y="924.4" font-size="6.4" text-anchor="end" fill="#111">-20</text>
<text x="496" y="1035.4" font-size="6.4" text-anchor="end" fill="#111">-20</text>
<text x="496" y="906" font-size="6.4" text-anchor="end" fill="#111">-10</text>
<text x="496" y="1053.8" font-size="6.4" text-anchor="end" fill="#111">-10</text>
<text x="496" y="887.6" font-size="6.4" text-anchor="end" fill="#111">0</text>
<text x="496" y="1072.2" font-size="6.4" text-anchor="end" fill="#111">0</text>
<text x="496" y="869.2" font-size="6.4" text-anchor="end" fill="#111">10</text>
<text x="496" y="1090.6" font-size="6.4" text-anchor="end" fill="#111">10</text>
<text x="440.8" y="880.4" font-size="6.4" text-anchor="middle" fill="#111">30°</text>
<text x="398.6" y="922.6" font-size="6.4" text-anchor="middle" fill="#111">60°</text>
<text x="398.6" y="1038" font-size="6.4" text-anchor="middle" fill="#111">120°</text>
<text x="440.8" y="1080.2" font-size="6.4" text-anchor="middle" fill="#111">150°</text>
<text x="556.2" y="1080.2" font-size="6.4" text-anchor="middle" fill="#111">210°</text>
<text x="598.4" y="1038" font-size="6.4" text-anchor="middle" fill="#111">240°</text>
<text x="598.4" y="922.6" font-size="6.4" text-anchor="middle" fill="#111">300°</text>
<text x="556.2" y="880.4" font-size="6.4" text-anchor="middle" fill="#111">330°</text>
<text x="498.4" y="859.9" font-size="6.4" text-anchor="middle" fill="#111">0°</text>
<text x="498.4" y="1101.1" font-size="6.4" text-anchor="middle" fill="#111">180°</text>
<text x="377.2" y="984.5" font-size="6.4" fill="#111">90°</text>
<text x="619" y="977.3" font-size="6.4" text-anchor="end" fill="#111">270°</text>
<path d="M537.2 1090.5H566.5" stroke="#000" stroke-width="1.05"/>
<text x="596.5" y="1092.6" font-size="7" text-anchor="end" fill="#111">16000Hz</text>
<path d="M537.2 1098.1H566.5" stroke="#000" stroke-width="1.05" stroke-dasharray="4.8 3.5"/>
<text x="596.5" y="1100.2" font-size="7" text-anchor="end" fill="#111">8000Hz</text>
<path d="M539.2 1105.7H566.5" stroke="#000" stroke-width="1.05" stroke-dasharray="1.8 1.4"/>
<text x="596.5" y="1107.8" font-size="7" text-anchor="end" fill="#111">4000Hz</text>
<circle cx="785.8" cy="978.2" r="23.4" fill="none" stroke="#000" stroke-width="1.05"/>
<circle cx="785.8" cy="978.2" r="41.8" fill="none" stroke="#000" stroke-width="1.05"/>
<circle cx="785.8" cy="978.2" r="60.2" fill="none" stroke="#000" stroke-width="1.05"/>
<circle cx="785.8" cy="978.2" r="78.6" fill="none" stroke="#000" stroke-width="1.05"/>
<circle cx="785.8" cy="978.2" r="97" fill="none" stroke="#000" stroke-width="1.05"/>
<path d="M723.9 880.8A115.4 115.4 0 0 0 688.4 916.3M683.5 924.8A115.4 115.4 0 0 0 682.9 1030.4M689.1 1041.2A115.4 115.4 0 0 0 722.8 1074.9M733.6 1081.1A115.4 115.4 0 0 0 838 1081.1M848.8 1074.9A115.4 115.4 0 0 0 882.5 1041.2M888.7 1030.4A115.4 115.4 0 0 0 888.7 926M882.5 915.2A115.4 115.4 0 0 0 848.8 881.5M838 875.3A115.4 115.4 0 0 0 732.4 875.9" fill="none" stroke="#000" stroke-width="1.05"/>
<path d="M785.5 954.8L785.5 862.8M774.1 957.9L729.3 880.4M765.5 966.5L688 921.8M762.4 978.5L670.4 978.5M765.5 989.9L688 1034.7M774.1 998.5L729.3 1076M785.5 1001.6L785.5 1093.6M797.5 998.5L842.2 1076M806.1 989.9L883.6 1034.7M809.2 978.5L901.2 978.5M806.1 966.5L883.6 921.8M797.5 957.9L842.2 880.4" fill="none" stroke="#000" stroke-width="1.05"/>
<path d="M785.8 881.5 C780.5 881.5 775.3 882 770 883.1 C764.7 884.1 759.1 885.5 754.2 887.6 C749.3 889.7 744.8 892.3 740.6 895.5 C736.5 898.7 732.6 902.3 729.4 906.8 C726.2 911.3 723.3 917.3 721.5 922.6 C719.6 927.8 719 932.7 718.5 938.4 C718 944 718 951.2 718.5 956.5 C719 961.7 720.6 966.3 721.5 970 C722.3 973.6 723 975.3 723.7 978.4 C724.5 981.4 724.6 985.1 726 988.1 C727.3 991 729.5 993.7 731.6 996 C733.7 998.2 736.9 999.5 738.4 1001.6 C739.9 1003.7 739.9 1005.8 740.6 1008.4 C741.4 1011 741.4 1014.6 742.9 1017.4 C744.4 1020.2 747.2 1023.1 749.7 1025.3 C752.1 1027.5 754.9 1029.4 757.6 1030.5 C760.2 1031.6 763.2 1031.5 765.5 1032.1 C767.7 1032.7 769.2 1033.2 771.1 1034.4 C773 1035.5 775.1 1037.6 776.8 1038.9 C778.5 1040.1 779.8 1041.2 781.3 1041.8 C782.8 1042.4 784.3 1042.7 785.8 1042.7 C787.3 1042.7 788.8 1042.4 790.3 1041.8 C791.8 1041.2 793.1 1040.1 794.8 1038.9 C796.5 1037.6 798.6 1035.5 800.5 1034.4 C802.4 1033.2 803.9 1032.7 806.1 1032.1 C808.4 1031.5 811.4 1031.6 814 1030.5 C816.7 1029.4 819.5 1027.5 821.9 1025.3 C824.4 1023.1 827.2 1020.2 828.7 1017.4 C830.2 1014.6 830.2 1011 831 1008.4 C831.7 1005.8 831.7 1003.7 833.2 1001.6 C834.7 999.5 837.9 998.2 840 996 C842.1 993.7 844.3 991 845.6 988.1 C847 985.1 847.1 981.4 847.9 978.4 C848.6 975.3 849.3 973.6 850.1 970 C851 966.3 852.6 961.7 853.1 956.5 C853.6 951.2 853.6 944 853.1 938.4 C852.6 932.7 852 927.8 850.1 922.6 C848.3 917.3 845.4 911.3 842.2 906.8 C839 902.3 835.1 898.7 831 895.5 C826.8 892.3 822.3 889.7 817.4 887.6 C812.5 885.5 806.9 884.1 801.6 883.1 C796.3 882 791.1 881.5 785.8 881.5Z" fill="none" stroke="#000" stroke-width="1.2" stroke-linejoin="round"/>
<path d="M785.8 881.9 C779.8 881.9 773.8 882.9 767.7 884.2 C761.7 885.5 755.7 887.2 749.7 889.8 C743.7 892.5 737.1 895.9 731.6 900 C726.2 904.1 720.9 909.4 716.9 914.7 C713 919.9 710.2 925.4 707.9 931.6 C705.6 937.8 704.3 944.1 703.4 951.9 C702.5 959.7 702.1 970.5 702.7 978.4 C703.3 986.3 704.6 992.5 706.8 999.4 C709 1006.2 712 1013.5 715.8 1019.7 C719.6 1025.9 724.5 1031.7 729.4 1036.6 C734.2 1041.5 739.5 1045.5 745.2 1049 C750.8 1052.6 756.5 1055.8 763.2 1058.1 C770 1060.3 778.3 1062.6 785.8 1062.6 C793.3 1062.6 801.6 1060.3 808.4 1058.1 C815.1 1055.8 820.8 1052.6 826.4 1049 C832.1 1045.5 837.4 1041.5 842.2 1036.6 C847.1 1031.7 852 1025.9 855.8 1019.7 C859.6 1013.5 862.6 1006.2 864.8 999.4 C867 992.5 868.3 986.3 868.9 978.4 C869.5 970.5 869.1 959.7 868.2 951.9 C867.3 944.1 866 937.8 863.7 931.6 C861.4 925.4 858.6 919.9 854.7 914.7 C850.7 909.4 845.4 904.1 840 900 C834.5 895.9 827.9 892.5 821.9 889.8 C815.9 887.2 809.9 885.5 803.9 884.2 C797.8 882.9 791.8 881.9 785.8 881.9Z" fill="none" stroke="#000" stroke-width="1.2" stroke-dasharray="4.8 3.5" stroke-linejoin="round"/>
<path d="M785.8 881.9 C779 881.9 772.3 882.7 765.5 884.2 C758.7 885.7 751.6 888.1 745.2 891 C738.8 893.8 732.7 896.8 727.1 901.1 C721.5 905.5 715.8 911.1 711.3 916.9 C706.8 922.8 702.8 929.2 700 936.1 C697.2 943.1 695.5 951.7 694.4 958.7 C693.2 965.7 692.8 971.6 693.2 978.4 C693.6 985.1 694.5 992.1 696.6 999.4 C698.7 1006.6 701.7 1014.8 705.6 1021.9 C709.6 1029.1 714.9 1036.4 720.3 1042.3 C725.8 1048.1 731.6 1052.8 738.4 1056.9 C745.2 1061.1 753.1 1064.8 761 1067.1 C768.9 1069.4 777.5 1070.5 785.8 1070.5 C794.1 1070.5 802.7 1069.4 810.6 1067.1 C818.5 1064.8 826.4 1061.1 833.2 1056.9 C840 1052.8 845.8 1048.1 851.3 1042.3 C856.7 1036.4 862 1029.1 866 1021.9 C869.9 1014.8 872.9 1006.6 875 999.4 C877.1 992.1 878 985.1 878.4 978.4 C878.8 971.6 878.4 965.7 877.2 958.7 C876.1 951.7 874.4 943.1 871.6 936.1 C868.8 929.2 864.8 922.8 860.3 916.9 C855.8 911.1 850.1 905.5 844.5 901.1 C838.9 896.8 832.8 893.8 826.4 891 C820 888.1 812.9 885.7 806.1 884.2 C799.3 882.7 792.6 881.9 785.8 881.9Z" fill="none" stroke="#000" stroke-width="1.2" stroke-dasharray="1.8 1.4" stroke-linejoin="round"/>
<text x="784.2" y="961.5" font-size="6.4" text-anchor="end" fill="#111">-40</text>
<text x="784.2" y="998.9" font-size="6.4" text-anchor="end" fill="#111">-40</text>
<text x="784.2" y="943.1" font-size="6.4" text-anchor="end" fill="#111">-30</text>
<text x="784.2" y="1017.3" font-size="6.4" text-anchor="end" fill="#111">-30</text>
<text x="784.2" y="924.7" font-size="6.4" text-anchor="end" fill="#111">-20</text>
<text x="784.2" y="1035.7" font-size="6.4" text-anchor="end" fill="#111">-20</text>
<text x="784.2" y="906.3" font-size="6.4" text-anchor="end" fill="#111">-10</text>
<text x="784.2" y="1054.1" font-size="6.4" text-anchor="end" fill="#111">-10</text>
<text x="784.2" y="887.9" font-size="6.4" text-anchor="end" fill="#111">0</text>
<text x="784.2" y="1072.5" font-size="6.4" text-anchor="end" fill="#111">0</text>
<text x="784.2" y="869.5" font-size="6.4" text-anchor="end" fill="#111">10</text>
<text x="784.2" y="1090.9" font-size="6.4" text-anchor="end" fill="#111">10</text>
<text x="729" y="880.7" font-size="6.4" text-anchor="middle" fill="#111">30°</text>
<text x="686.8" y="922.9" font-size="6.4" text-anchor="middle" fill="#111">60°</text>
<text x="686.8" y="1038.3" font-size="6.4" text-anchor="middle" fill="#111">120°</text>
<text x="729" y="1080.5" font-size="6.4" text-anchor="middle" fill="#111">150°</text>
<text x="844.4" y="1080.5" font-size="6.4" text-anchor="middle" fill="#111">210°</text>
<text x="886.6" y="1038.3" font-size="6.4" text-anchor="middle" fill="#111">240°</text>
<text x="886.6" y="922.9" font-size="6.4" text-anchor="middle" fill="#111">300°</text>
<text x="844.4" y="880.7" font-size="6.4" text-anchor="middle" fill="#111">330°</text>
<text x="786.6" y="860.2" font-size="6.4" text-anchor="middle" fill="#111">0°</text>
<text x="786.6" y="1101.4" font-size="6.4" text-anchor="middle" fill="#111">180°</text>
<text x="665.4" y="984.8" font-size="6.4" fill="#111">90°</text>
<text x="907.2" y="977.6" font-size="6.4" text-anchor="end" fill="#111">270°</text>
<path d="M825.4 1091.2H855" stroke="#000" stroke-width="1.05"/>
<text x="881" y="1093.3" font-size="7" text-anchor="end" fill="#111">2000Hz</text>
<path d="M825.4 1098.9H855" stroke="#000" stroke-width="1.05" stroke-dasharray="4.8 3.5"/>
<text x="881" y="1101" font-size="7" text-anchor="end" fill="#111">1000Hz</text>
<path d="M827.4 1106.6H855" stroke="#000" stroke-width="1.05" stroke-dasharray="1.8 1.4"/>
<text x="881" y="1108.7" font-size="7" text-anchor="end" fill="#111">500Hz</text>
<circle cx="1038.3" cy="978.2" r="23.4" fill="none" stroke="#000" stroke-width="1.05"/>
<circle cx="1038.3" cy="978.2" r="41.8" fill="none" stroke="#000" stroke-width="1.05"/>
<circle cx="1038.3" cy="978.2" r="60.2" fill="none" stroke="#000" stroke-width="1.05"/>
<circle cx="1038.3" cy="978.2" r="78.6" fill="none" stroke="#000" stroke-width="1.05"/>
<circle cx="1038.3" cy="978.2" r="97" fill="none" stroke="#000" stroke-width="1.05"/>
<path d="M976.4 880.8A115.4 115.4 0 0 0 940.9 916.3M936 924.8A115.4 115.4 0 0 0 935.4 1030.4M941.6 1041.2A115.4 115.4 0 0 0 975.3 1074.9M986.1 1081.1A115.4 115.4 0 0 0 1090.5 1081.1M1101.3 1074.9A115.4 115.4 0 0 0 1135 1041.2M1141.2 1030.4A115.4 115.4 0 0 0 1141.2 926M1135 915.2A115.4 115.4 0 0 0 1101.3 881.5M1090.5 875.3A115.4 115.4 0 0 0 984.9 875.9" fill="none" stroke="#000" stroke-width="1.05"/>
<path d="M1038.5 954.8L1038.5 862.8M1026.6 957.9L981.8 880.4M1018 966.5L940.5 921.8M1014.9 978.5L922.9 978.5M1018 989.9L940.5 1034.7M1026.6 998.5L981.8 1076M1038.5 1001.6L1038.5 1093.6M1050 998.5L1094.8 1076M1058.6 989.9L1136.1 1034.7M1061.7 978.5L1153.7 978.5M1058.6 966.5L1136.1 921.8M1050 957.9L1094.8 880.4" fill="none" stroke="#000" stroke-width="1.05"/>
<path d="M1038.3 881.5 C1035.4 881.5 1032.2 882.2 1029.5 883.6 C1026.8 884.9 1024.6 887.6 1022.2 889.8 C1019.7 892.1 1017.1 895.1 1014.8 897.2 C1012.6 899.3 1010.7 900.5 1008.6 902.4 C1006.5 904.3 1004 906.6 1002.3 908.7 C1000.5 910.8 999.5 912.6 998.1 915 C996.7 917.4 995.3 920.6 993.9 923.4 C992.5 926.2 991 929.7 989.7 931.8 C988.4 933.9 986.6 933.9 985.9 936 C985.2 938.1 986.1 941.6 985.5 944.4 C984.9 947.2 983.2 950 982.3 952.7 C981.5 955.5 980.2 958.3 980.2 961.1 C980.2 963.9 981.8 966.7 982.3 969.5 C982.9 972.4 983.4 975.5 983.4 978.3 C983.4 981.1 982 983.6 982.3 986.3 C982.7 989 984.3 991.9 985.5 994.7 C986.7 997.5 988.6 1000.3 989.7 1003.1 C990.7 1005.9 991.3 1008.3 991.8 1011.5 C992.3 1014.6 991.4 1018.8 992.8 1021.9 C994.2 1025.1 997.5 1027.5 1000.2 1030.3 C1002.8 1033.1 1005.8 1036.8 1008.6 1038.7 C1011.3 1040.6 1014.5 1041.7 1016.9 1041.9 C1019.4 1042 1021.5 1040.7 1023.2 1039.8 C1025 1038.8 1024.9 1036.9 1027.4 1036.2 C1029.9 1035.5 1034.7 1035.6 1038.3 1035.6 C1042 1035.6 1046.7 1035.5 1049.2 1036.2 C1051.7 1036.9 1051.6 1038.8 1053.4 1039.8 C1055.1 1040.7 1057.2 1042 1059.7 1041.9 C1062.1 1041.7 1065.3 1040.6 1068 1038.7 C1070.8 1036.8 1073.8 1033.1 1076.4 1030.3 C1079.1 1027.5 1082.4 1025.1 1083.8 1021.9 C1085.2 1018.8 1084.3 1014.6 1084.8 1011.5 C1085.3 1008.3 1085.9 1005.9 1086.9 1003.1 C1088 1000.3 1089.9 997.5 1091.1 994.7 C1092.3 991.9 1093.9 989 1094.3 986.3 C1094.6 983.6 1093.2 981.1 1093.2 978.3 C1093.2 975.5 1093.7 972.4 1094.3 969.5 C1094.8 966.7 1096.4 963.9 1096.4 961.1 C1096.4 958.3 1095.1 955.5 1094.3 952.7 C1093.4 950 1091.7 947.2 1091.1 944.4 C1090.5 941.6 1091.4 938.1 1090.7 936 C1090 933.9 1088.2 933.9 1086.9 931.8 C1085.6 929.7 1084.1 926.2 1082.7 923.4 C1081.3 920.6 1079.9 917.4 1078.5 915 C1077.1 912.6 1076.1 910.8 1074.3 908.7 C1072.6 906.6 1070.1 904.3 1068 902.4 C1065.9 900.5 1064 899.3 1061.8 897.2 C1059.5 895.1 1056.9 892.1 1054.4 889.8 C1052 887.6 1049.8 884.9 1047.1 883.6 C1044.4 882.2 1041.3 881.5 1038.3 881.5Z" fill="none" stroke="#000" stroke-width="1.2" stroke-linejoin="round"/>
<path d="M1038.3 881.9 C1034.7 881.9 1030.6 883.4 1027.4 885.6 C1024.2 887.8 1021.8 891.9 1019 895.1 C1016.2 898.2 1013.3 901.9 1010.7 904.5 C1008 907.1 1005.1 908.4 1003.3 910.8 C1001.6 913.3 1000.9 915.4 1000.2 919.2 C999.5 923 999.8 929.3 999.1 933.9 C998.4 938.4 997 942.6 996 946.5 C994.9 950.3 994 953.6 992.8 956.9 C991.6 960.3 989 963.6 988.6 966.4 C988.3 969.2 989.5 971.3 990.7 973.7 C992 976.2 993.9 979.3 996 981.1 C998.1 982.8 1001.7 981.9 1003.3 984.2 C1004.9 986.5 1003.8 991.5 1005.4 994.7 C1007 997.8 1009.8 1001 1012.7 1003.1 C1015.7 1005.2 1019 1006.4 1023.2 1007.3 C1027.5 1008.1 1033.3 1008.3 1038.3 1008.3 C1043.4 1008.3 1049.1 1008.1 1053.4 1007.3 C1057.6 1006.4 1060.9 1005.2 1063.9 1003.1 C1066.8 1001 1069.6 997.8 1071.2 994.7 C1072.8 991.5 1071.7 986.5 1073.3 984.2 C1074.9 981.9 1078.5 982.8 1080.6 981.1 C1082.7 979.3 1084.6 976.2 1085.9 973.7 C1087.1 971.3 1088.3 969.2 1088 966.4 C1087.6 963.6 1085 960.3 1083.8 956.9 C1082.6 953.6 1081.7 950.3 1080.6 946.5 C1079.6 942.6 1078.2 938.4 1077.5 933.9 C1076.8 929.3 1077.1 923 1076.4 919.2 C1075.7 915.4 1075 913.3 1073.3 910.8 C1071.5 908.4 1068.6 907.1 1065.9 904.5 C1063.3 901.9 1060.4 898.2 1057.6 895.1 C1054.8 891.9 1052.4 887.8 1049.2 885.6 C1046 883.4 1042 881.9 1038.3 881.9Z" fill="none" stroke="#000" stroke-width="1.2" stroke-dasharray="4.8 3.5" stroke-linejoin="round"/>
<path d="M1038.3 881.9 C1034.7 881.9 1031 882.6 1027.4 884 C1023.9 885.3 1020.1 887.5 1016.9 889.8 C1013.8 892.2 1011.3 894.7 1008.6 898.2 C1005.8 901.7 1003 907 1000.2 910.8 C997.4 914.7 994.6 917.4 991.8 921.3 C989 925.1 985.8 929.7 983.4 933.9 C980.9 938.1 978.6 942.3 977.1 946.5 C975.6 950.7 974.9 954.8 974.6 959 C974.3 963.2 974.7 967.4 975.4 971.6 C976.2 975.8 977.5 980 979.2 984.2 C980.9 988.4 983 992.6 985.5 996.8 C987.9 1001 991.4 1005.5 993.9 1009.4 C996.3 1013.2 997.7 1016.9 1000.2 1019.8 C1002.6 1022.8 1006.1 1025.6 1008.6 1027.2 C1011 1028.8 1012.6 1029.3 1014.8 1029.3 C1017.1 1029.3 1020.1 1028.1 1022.2 1027.2 C1024.3 1026.3 1026 1024.7 1027.4 1024 C1028.8 1023.3 1029.2 1022.3 1030.6 1023 C1032 1023.7 1034.5 1027.2 1035.8 1028.2 C1037.1 1029.3 1037.5 1029.3 1038.3 1029.3 C1039.2 1029.3 1039.5 1029.3 1040.8 1028.2 C1042.1 1027.2 1044.6 1023.7 1046 1023 C1047.4 1022.3 1047.8 1023.3 1049.2 1024 C1050.6 1024.7 1052.3 1026.3 1054.4 1027.2 C1056.5 1028.1 1059.5 1029.3 1061.8 1029.3 C1064 1029.3 1065.6 1028.8 1068 1027.2 C1070.5 1025.6 1074 1022.8 1076.4 1019.8 C1078.9 1016.9 1080.3 1013.2 1082.7 1009.4 C1085.2 1005.5 1088.7 1001 1091.1 996.8 C1093.6 992.6 1095.7 988.4 1097.4 984.2 C1099.1 980 1100.4 975.8 1101.2 971.6 C1101.9 967.4 1102.3 963.2 1102 959 C1101.7 954.8 1101 950.7 1099.5 946.5 C1098 942.3 1095.7 938.1 1093.2 933.9 C1090.8 929.7 1087.6 925.1 1084.8 921.3 C1082 917.4 1079.2 914.7 1076.4 910.8 C1073.6 907 1070.8 901.7 1068 898.2 C1065.3 894.7 1062.8 892.2 1059.7 889.8 C1056.5 887.5 1052.7 885.3 1049.2 884 C1045.6 882.6 1042 881.9 1038.3 881.9Z" fill="none" stroke="#000" stroke-width="1.2" stroke-dasharray="1.8 1.4" stroke-linejoin="round"/>
<text x="1036.7" y="961.5" font-size="6.4" text-anchor="end" fill="#111">-40</text>
<text x="1036.7" y="998.9" font-size="6.4" text-anchor="end" fill="#111">-40</text>
<text x="1036.7" y="943.1" font-size="6.4" text-anchor="end" fill="#111">-30</text>
<text x="1036.7" y="1017.3" font-size="6.4" text-anchor="end" fill="#111">-30</text>
<text x="1036.7" y="924.7" font-size="6.4" text-anchor="end" fill="#111">-20</text>
<text x="1036.7" y="1035.7" font-size="6.4" text-anchor="end" fill="#111">-20</text>
<text x="1036.7" y="906.3" font-size="6.4" text-anchor="end" fill="#111">-10</text>
<text x="1036.7" y="1054.1" font-size="6.4" text-anchor="end" fill="#111">-10</text>
<text x="1036.7" y="887.9" font-size="6.4" text-anchor="end" fill="#111">0</text>
<text x="1036.7" y="1072.5" font-size="6.4" text-anchor="end" fill="#111">0</text>
<text x="1036.7" y="869.5" font-size="6.4" text-anchor="end" fill="#111">10</text>
<text x="1036.7" y="1090.9" font-size="6.4" text-anchor="end" fill="#111">10</text>
<text x="981.5" y="880.7" font-size="6.4" text-anchor="middle" fill="#111">30°</text>
<text x="939.3" y="922.9" font-size="6.4" text-anchor="middle" fill="#111">60°</text>
<text x="939.3" y="1038.3" font-size="6.4" text-anchor="middle" fill="#111">120°</text>
<text x="981.5" y="1080.5" font-size="6.4" text-anchor="middle" fill="#111">150°</text>
<text x="1096.9" y="1080.5" font-size="6.4" text-anchor="middle" fill="#111">210°</text>
<text x="1139.1" y="1038.3" font-size="6.4" text-anchor="middle" fill="#111">240°</text>
<text x="1139.1" y="922.9" font-size="6.4" text-anchor="middle" fill="#111">300°</text>
<text x="1096.9" y="880.7" font-size="6.4" text-anchor="middle" fill="#111">330°</text>
<text x="1039.1" y="860.2" font-size="6.4" text-anchor="middle" fill="#111">0°</text>
<text x="1039.1" y="1101.4" font-size="6.4" text-anchor="middle" fill="#111">180°</text>
<text x="917.9" y="984.8" font-size="6.4" fill="#111">90°</text>
<text x="1159.7" y="977.6" font-size="6.4" text-anchor="end" fill="#111">270°</text>
<path d="M1078 1091.2H1107.5" stroke="#000" stroke-width="1.05"/>
<text x="1137" y="1093.3" font-size="7" text-anchor="end" fill="#111">16000Hz</text>
<path d="M1078 1098.9H1107.5" stroke="#000" stroke-width="1.05" stroke-dasharray="4.8 3.5"/>
<text x="1137" y="1101" font-size="7" text-anchor="end" fill="#111">8000Hz</text>
<path d="M1080 1106.6H1107.5" stroke="#000" stroke-width="1.05" stroke-dasharray="1.8 1.4"/>
<text x="1137" y="1108.7" font-size="7" text-anchor="end" fill="#111">4000Hz</text>
<rect x="65" y="1155.7" width="1115" height="28.3" fill="#000"/>
<g clip-path="url(#cb2)">
<text x="94.8" y="1183.7" font-size="31.7" textLength="873" lengthAdjust="spacingAndGlyphs" fill="#fff">CHARACTERISTIC DIAGRAMS FOR USE AS MICROPHONE</text>
</g>
<text x="165" y="1220" font-size="15.1" font-weight="bold" textLength="158.5" lengthAdjust="spacingAndGlyphs" fill="#000">Frequency Response</text>
<text x="162.3" y="1227.6" font-size="10.5" text-anchor="end" fill="#111">[dB]</text>
<path d="M207.5 1234.5V1420.8M232.5 1234.5V1420.8M250.5 1234.5V1420.8M264.5 1234.5V1420.8M275.5 1234.5V1420.8M285.5 1234.5V1420.8M293.5 1234.5V1420.8M301.5 1234.5V1420.8M307.5 1234.5V1420.8M350.5 1234.5V1420.8M376.5 1234.5V1420.8M393.5 1234.5V1420.8M407.5 1234.5V1420.8M419.5 1234.5V1420.8M428.5 1234.5V1420.8M437.5 1234.5V1420.8M444.5 1234.5V1420.8M450.5 1234.5V1420.8M164.5 1383.5H494M164.5 1346.5H494M164.5 1309.5H494M164.5 1271.5H494" stroke="#8a8aa6" stroke-width="1" fill="none"/>
<rect x="164.5" y="1234.5" width="329.5" height="186.3" fill="none" stroke="#000" stroke-width="1.15"/>
<text x="164.5" y="1431.8" font-size="10.5" text-anchor="middle" fill="#111">100</text>
<text x="264.6" y="1431.8" font-size="10.5" text-anchor="middle" fill="#111">500</text>
<text x="307.7" y="1431.8" font-size="10.5" text-anchor="middle" fill="#111">1k</text>
<text x="407.8" y="1431.8" font-size="10.5" text-anchor="middle" fill="#111">5k</text>
<text x="450.9" y="1431.8" font-size="10.5" text-anchor="middle" fill="#111">10k</text>
<text x="494" y="1431.8" font-size="10.5" text-anchor="middle" fill="#111">20k</text>
<text x="494" y="1441.6" font-size="10.5" text-anchor="middle" fill="#111">[Hz]</text>
<text x="162.8" y="1237.9" font-size="10.5" text-anchor="end" fill="#111">10</text>
<text x="162.8" y="1275.2" font-size="10.5" text-anchor="end" fill="#111">0</text>
<text x="162.8" y="1312.4" font-size="10.5" text-anchor="end" fill="#111">-10</text>
<text x="162.8" y="1349.7" font-size="10.5" text-anchor="end" fill="#111">-20</text>
<text x="162.8" y="1386.9" font-size="10.5" text-anchor="end" fill="#111">-30</text>
<text x="162.8" y="1424.2" font-size="10.5" text-anchor="end" fill="#111">-40</text>
<text x="328" y="1443.5" font-size="10.5" text-anchor="middle" fill="#111">Frequency</text>
<text transform="translate(143 1328) rotate(-90)" font-size="10.5" text-anchor="middle" fill="#111">Sensitivity</text>
<path d="M217 1420.7 C217.4 1418.8 218.8 1411.1 219.5 1407.9 C220.2 1404.7 221 1401.2 221.7 1399.2 C222.3 1397.2 223.3 1395.7 223.9 1394.8 C224.5 1394 225 1393.7 225.6 1393.7 C226.3 1393.6 227.3 1394.3 228.2 1394.5 C229.2 1394.8 230.9 1395.5 231.9 1395.6 C232.8 1395.6 234 1395.7 234.8 1395.1 C235.5 1394.6 236.3 1393.5 236.9 1391.9 C237.6 1390.4 238.5 1387.5 239.1 1384.7 C239.8 1381.8 240.5 1377 241.3 1373.1 C242.1 1369.1 243.3 1363.6 244.2 1358.5 C245.1 1353.5 246.3 1345.1 247.1 1339.7 C247.9 1334.2 248.7 1327.3 249.3 1322.3 C249.8 1317.2 250.3 1310.4 250.7 1306.3 C251.2 1302.2 251.7 1297.3 252.2 1294.7 C252.6 1292.1 253.2 1289.9 253.6 1288.9 C254.1 1287.8 254.6 1287.6 255.1 1287.9 C255.6 1288.1 256.4 1289.6 257 1290.3 C257.6 1291.1 258.4 1292.5 259 1292.9 C259.6 1293.4 260.3 1293.6 260.9 1293.2 C261.5 1292.8 262.4 1291.6 263.1 1290.3 C263.7 1289 264.5 1286.7 265.2 1284.5 C266 1282.3 267.4 1277.9 268.1 1275.8 C268.9 1273.7 269.7 1271.3 270.3 1270.3 C270.9 1269.3 271.5 1268.9 272.1 1269 C272.6 1269.1 273.3 1269.8 273.9 1271.2 C274.6 1272.5 275.4 1275.8 276.1 1278 C276.9 1280.2 278.2 1284.1 279 1286 C279.9 1287.9 281.2 1289.8 281.9 1290.6 C282.7 1291.4 283.5 1291.5 284.1 1291 C284.8 1290.6 285.5 1289.3 286.3 1287.4 C287.1 1285.6 288.3 1282 289.2 1278.7 C290.1 1275.4 291.3 1268.6 292.1 1265.6 C292.9 1262.7 293.7 1260.3 294.3 1259.1 C294.8 1257.9 295.2 1257.3 295.7 1257.5 C296.3 1257.7 297.1 1259.1 297.9 1260.6 C298.7 1262 299.9 1265.4 300.8 1267.1 C301.7 1268.8 302.9 1270.9 303.7 1271.7 C304.5 1272.6 305.2 1273.1 305.9 1272.9 C306.5 1272.8 307.3 1272.5 308.1 1270.7 C308.8 1269 310.1 1264.9 311 1261.3 C311.8 1257.7 313.1 1249.8 313.9 1246.8 C314.6 1243.7 315.3 1242.2 316 1241 C316.8 1239.7 318 1238.9 318.9 1238.5 C319.9 1238.1 321.5 1238.1 322.6 1238.4 C323.7 1238.6 325.2 1239.3 326.2 1240.2 C327.2 1241.2 328.5 1243.7 329.1 1244.6 C329.7 1245.5 329.4 1245.2 330 1246 C330.6 1246.9 331.9 1249.6 332.9 1250 C333.9 1250.3 335.6 1248.3 336.5 1248.2 C337.5 1248.2 338.6 1248.7 339.4 1249.7 C340.3 1250.7 341.4 1252.9 342.3 1254.8 C343.3 1256.6 345 1260.5 346 1262 C346.9 1263.5 348 1264.3 348.9 1264.9 C349.7 1265.5 350.9 1265.3 351.8 1266.1 C352.6 1266.8 353.7 1268.4 354.7 1270 C355.7 1271.6 357.2 1274.8 358.3 1276.5 C359.4 1278.2 361 1280.4 361.9 1281.3 C362.9 1282.2 364 1282.7 364.8 1282.5 C365.7 1282.3 366.9 1281.2 367.7 1280.2 C368.6 1279.2 369.9 1276.7 370.6 1275.8 C371.3 1274.9 371.8 1274 372.4 1274.4 C372.9 1274.7 373.6 1276.2 374.3 1278 C375 1279.7 376.3 1284.4 377.2 1286 C378 1287.5 379.3 1287.8 380.1 1288.1 C380.9 1288.5 381.8 1288 382.5 1288.6 C383.3 1289.1 384.3 1290.6 385.2 1291.8 C386 1292.9 387.3 1295.9 388.1 1296.4 C388.8 1297 389.6 1296 390.2 1295.4 C390.9 1294.8 391.7 1293 392.4 1292.5 C393.2 1292 394.5 1291.9 395.3 1292.2 C396.2 1292.5 397.4 1293.4 398.2 1294.7 C399.1 1295.9 400.3 1298.8 401.1 1300.5 C402 1302.2 403.2 1305.5 404 1306 C404.9 1306.5 406.2 1304.6 406.9 1304.1 C407.7 1303.6 408.5 1302.6 409.1 1302.7 C409.8 1302.8 410.4 1304 411.3 1304.8 C412.2 1305.7 413.9 1307.8 414.9 1308.5 C415.9 1309.1 417.1 1308.4 417.8 1309.2 C418.6 1310 419.2 1311.6 420 1313.5 C420.8 1315.5 422.1 1319.8 422.9 1322.3 C423.7 1324.7 424.8 1328.6 425.5 1329.8 C426.2 1331 426.9 1329 427.5 1330.1 C428.2 1331.1 429.4 1334.2 430.2 1336.8 C430.9 1339.3 431.6 1344.1 432.3 1346.9 C433 1349.7 434.1 1355.1 434.8 1355.4 C435.5 1355.6 436.3 1350.9 437.1 1348.4 C437.9 1345.9 439.3 1339.6 440 1338.5 C440.7 1337.4 441.2 1340.4 441.8 1341.1 C442.4 1341.8 443.4 1342.5 443.9 1343.3 C444.5 1344.1 444.9 1346.1 445.4 1346.2 C445.9 1346.4 446.7 1344.6 447.3 1344.3 C447.9 1344.1 448.8 1344.3 449.3 1344.6 C449.8 1344.9 450.6 1346 450.8 1346.2" fill="none" stroke="#000" stroke-width="1.1" stroke-linejoin="round"/>
<text x="576" y="1220" font-size="15.1" font-weight="bold" textLength="192.5" lengthAdjust="spacingAndGlyphs" fill="#000">Beamwidth vs. Frequency</text>
<text x="773.5" y="1220" font-size="10" font-weight="bold" textLength="90" lengthAdjust="spacingAndGlyphs" fill="#000">(-6dB down point)</text>
<text x="574.3" y="1236.9" font-size="10.5" text-anchor="end" fill="#111">[deg]</text>
<path d="M619.5 1234.5V1420.8M644.5 1234.5V1420.8M662.5 1234.5V1420.8M676.5 1234.5V1420.8M688.5 1234.5V1420.8M697.5 1234.5V1420.8M705.5 1234.5V1420.8M713.5 1234.5V1420.8M719.5 1234.5V1420.8M763.5 1234.5V1420.8M788.5 1234.5V1420.8M806.5 1234.5V1420.8M820.5 1234.5V1420.8M831.5 1234.5V1420.8M841.5 1234.5V1420.8M849.5 1234.5V1420.8M856.5 1234.5V1420.8M863.5 1234.5V1420.8M576.5 1387.5H906.4M576.5 1368.5H906.4M576.5 1354.5H906.4M576.5 1344.5H906.4M576.5 1335.5H906.4M576.5 1328.5H906.4M576.5 1321.5H906.4M576.5 1316.5H906.4M576.5 1311.5H906.4M576.5 1278.5H906.4M576.5 1258.5H906.4M576.5 1245.5H906.4" stroke="#8a8aa6" stroke-width="1" fill="none"/>
<rect x="576.5" y="1234.5" width="329.9" height="186.3" fill="none" stroke="#000" stroke-width="1.15"/>
<text x="576.5" y="1431.8" font-size="10.5" text-anchor="middle" fill="#111">100</text>
<text x="676.7" y="1431.8" font-size="10.5" text-anchor="middle" fill="#111">500</text>
<text x="719.9" y="1431.8" font-size="10.5" text-anchor="middle" fill="#111">1k</text>
<text x="820.1" y="1431.8" font-size="10.5" text-anchor="middle" fill="#111">5k</text>
<text x="863.2" y="1431.8" font-size="10.5" text-anchor="middle" fill="#111">10k</text>
<text x="906.4" y="1431.8" font-size="10.5" text-anchor="middle" fill="#111">20k</text>
<text x="906.4" y="1441.6" font-size="10.5" text-anchor="middle" fill="#111">[Hz]</text>
<text x="574.8" y="1280.4" font-size="10.5" text-anchor="end" fill="#111">200</text>
<text x="574.8" y="1313.4" font-size="10.5" text-anchor="end" fill="#111">100</text>
<text x="574.8" y="1346.5" font-size="10.5" text-anchor="end" fill="#111">50</text>
<text x="574.8" y="1423.1" font-size="10.5" text-anchor="end" fill="#111">10</text>
<text x="740" y="1443.5" font-size="10.5" text-anchor="middle" fill="#111">Frequency</text>
<text transform="translate(555 1328) rotate(-90)" font-size="10.5" text-anchor="middle" fill="#111">Beamwidth</text>
<path d="M576.8 1250.3 L591 1250.3 L605.2 1250.3 L619.4 1250.3 L634 1250.3 L648.2 1250.3 L662.4 1250.3 L676.9 1250.3 L691.1 1250.3 L705.9 1288.2 L719.5 1304.2 L734.1 1313.7 L748.3 1319.6 L762.5 1331.5 L776.8 1335.6 L791.2 1343.2 L805.7 1351.5 L820.3 1353.3 L834.3 1356 L848.7 1361.3 L863.2 1347.1" fill="none" stroke="#000" stroke-width="1.15" stroke-linejoin="round"/>
<path d="M576.8 1250.3 L591 1250.3 L605.2 1250.3 L619.4 1250.3 L634 1250.3 L648.2 1250.3 L662.4 1250.3 L676.9 1250.3 L691.1 1250.3 L705.9 1285 L719.5 1301.3 L734.1 1310.2 L748.3 1316.9 L762.5 1329.4 L776.8 1345.9 L791.2 1359.5 L805.7 1370.2 L820.3 1362.2 L834.3 1333.8 L848.7 1352.8 L863.2 1339.7" fill="none" stroke="#000" stroke-width="1.15" stroke-linejoin="round"/>
<circle cx="576.8" cy="1250.3" r="2.0" fill="none" stroke="#000" stroke-width="1.05"/>
<circle cx="591" cy="1250.3" r="2.0" fill="none" stroke="#000" stroke-width="1.05"/>
<circle cx="605.2" cy="1250.3" r="2.0" fill="none" stroke="#000" stroke-width="1.05"/>
<circle cx="619.4" cy="1250.3" r="2.0" fill="none" stroke="#000" stroke-width="1.05"/>
<circle cx="634" cy="1250.3" r="2.0" fill="none" stroke="#000" stroke-width="1.05"/>
<circle cx="648.2" cy="1250.3" r="2.0" fill="none" stroke="#000" stroke-width="1.05"/>
<circle cx="662.4" cy="1250.3" r="2.0" fill="none" stroke="#000" stroke-width="1.05"/>
<circle cx="676.9" cy="1250.3" r="2.0" fill="none" stroke="#000" stroke-width="1.05"/>
<circle cx="691.1" cy="1250.3" r="2.0" fill="none" stroke="#000" stroke-width="1.05"/>
<circle cx="705.9" cy="1288.2" r="2.0" fill="none" stroke="#000" stroke-width="1.05"/>
<circle cx="719.5" cy="1304.2" r="2.0" fill="none" stroke="#000" stroke-width="1.05"/>
<circle cx="734.1" cy="1313.7" r="2.0" fill="none" stroke="#000" stroke-width="1.05"/>
<circle cx="748.3" cy="1319.6" r="2.0" fill="none" stroke="#000" stroke-width="1.05"/>
<circle cx="762.5" cy="1331.5" r="2.0" fill="none" stroke="#000" stroke-width="1.05"/>
<circle cx="776.8" cy="1335.6" r="2.0" fill="none" stroke="#000" stroke-width="1.05"/>
<circle cx="791.2" cy="1343.2" r="2.0" fill="none" stroke="#000" stroke-width="1.05"/>
<circle cx="805.7" cy="1351.5" r="2.0" fill="none" stroke="#000" stroke-width="1.05"/>
<circle cx="820.3" cy="1353.3" r="2.0" fill="none" stroke="#000" stroke-width="1.05"/>
<circle cx="834.3" cy="1356" r="2.0" fill="none" stroke="#000" stroke-width="1.05"/>
<circle cx="848.7" cy="1361.3" r="2.0" fill="none" stroke="#000" stroke-width="1.05"/>
<circle cx="863.2" cy="1347.1" r="2.0" fill="none" stroke="#000" stroke-width="1.05"/>
<path d="M576.8 1247.5L579.2 1251.7L574.4 1251.7Z" fill="none" stroke="#000" stroke-width="1.05"/>
<path d="M591 1247.5L593.4 1251.7L588.6 1251.7Z" fill="none" stroke="#000" stroke-width="1.05"/>
<path d="M605.2 1247.5L607.6 1251.7L602.8 1251.7Z" fill="none" stroke="#000" stroke-width="1.05"/>
<path d="M619.4 1247.5L621.8 1251.7L617 1251.7Z" fill="none" stroke="#000" stroke-width="1.05"/>
<path d="M634 1247.5L636.4 1251.7L631.6 1251.7Z" fill="none" stroke="#000" stroke-width="1.05"/>
<path d="M648.2 1247.5L650.6 1251.7L645.8 1251.7Z" fill="none" stroke="#000" stroke-width="1.05"/>
<path d="M662.4 1247.5L664.8 1251.7L660 1251.7Z" fill="none" stroke="#000" stroke-width="1.05"/>
<path d="M676.9 1247.5L679.3 1251.7L674.5 1251.7Z" fill="none" stroke="#000" stroke-width="1.05"/>
<path d="M691.1 1247.5L693.5 1251.7L688.7 1251.7Z" fill="none" stroke="#000" stroke-width="1.05"/>
<path d="M705.9 1282.2L708.3 1286.4L703.5 1286.4Z" fill="none" stroke="#000" stroke-width="1.05"/>
<path d="M719.5 1298.5L721.9 1302.7L717.1 1302.7Z" fill="none" stroke="#000" stroke-width="1.05"/>
<path d="M734.1 1307.4L736.5 1311.6L731.7 1311.6Z" fill="none" stroke="#000" stroke-width="1.05"/>
<path d="M748.3 1314.1L750.7 1318.3L745.9 1318.3Z" fill="none" stroke="#000" stroke-width="1.05"/>
<path d="M762.5 1326.6L764.9 1330.8L760.1 1330.8Z" fill="none" stroke="#000" stroke-width="1.05"/>
<path d="M776.8 1343.1L779.2 1347.3L774.4 1347.3Z" fill="none" stroke="#000" stroke-width="1.05"/>
<path d="M791.2 1356.7L793.6 1360.9L788.8 1360.9Z" fill="none" stroke="#000" stroke-width="1.05"/>
<path d="M805.7 1367.4L808.1 1371.6L803.3 1371.6Z" fill="none" stroke="#000" stroke-width="1.05"/>
<path d="M820.3 1359.4L822.7 1363.6L817.9 1363.6Z" fill="none" stroke="#000" stroke-width="1.05"/>
<path d="M834.3 1331L836.7 1335.2L831.9 1335.2Z" fill="none" stroke="#000" stroke-width="1.05"/>
<path d="M848.7 1350L851.1 1354.2L846.3 1354.2Z" fill="none" stroke="#000" stroke-width="1.05"/>
<path d="M863.2 1336.9L865.6 1341.1L860.8 1341.1Z" fill="none" stroke="#000" stroke-width="1.05"/>
<path d="M833.5 1439.9H862.3" stroke="#000" stroke-width="1"/>
<circle cx="833.5" cy="1439.9" r="2.1" fill="none" stroke="#000" stroke-width="1.05"/>
<path d="M837.9 1448.7H862.3" stroke="#000" stroke-width="1" stroke-dasharray="4.3 3.2"/>
<path d="M833.8 1445.3L836.4 1449.9L831.2 1449.9Z" fill="none" stroke="#000" stroke-width="1.05"/>
<text x="864.2" y="1443.2" font-size="10.5" fill="#111">Hor.</text>
<text x="864.2" y="1452.1" font-size="10.5" fill="#111">Ver.</text>
<text x="98" y="1478.7" font-size="15.1" font-weight="bold" textLength="118" lengthAdjust="spacingAndGlyphs" fill="#000">Polar Response</text>
<clipPath id="vb1590"><rect x="97.9" y="1491.5" width="26" height="205"/></clipPath>
<rect x="98.9" y="1492" width="21.6" height="204.5" fill="#fff" stroke="#111" stroke-width="1"/>
<g clip-path="url(#vb1590)"><text transform="translate(100 1489.5) rotate(90)" font-size="30" fill="#000" textLength="132.7" lengthAdjust="spacingAndGlyphs">horizontal</text></g>
<clipPath id="vb2131"><rect x="638.5" y="1491.5" width="26" height="205"/></clipPath>
<rect x="639.5" y="1492" width="22" height="204.5" fill="#fff" stroke="#111" stroke-width="1"/>
<g clip-path="url(#vb2131)"><text transform="translate(639.8 1491.2) rotate(90)" font-size="30" fill="#000" textLength="98.3" lengthAdjust="spacingAndGlyphs">vertical</text></g>
<circle cx="245.7" cy="1591.5" r="19" fill="none" stroke="#000" stroke-width="1.05"/>
<circle cx="245.7" cy="1591.5" r="33.9" fill="none" stroke="#000" stroke-width="1.05"/>
<circle cx="245.7" cy="1591.5" r="48.7" fill="none" stroke="#000" stroke-width="1.05"/>
<circle cx="245.7" cy="1591.5" r="63.5" fill="none" stroke="#000" stroke-width="1.05"/>
<circle cx="245.7" cy="1591.5" r="78.4" fill="none" stroke="#000" stroke-width="1.05"/>
<path d="M194.9 1513.3A93.2 93.2 0 0 0 167.5 1540.7M162.6 1549.2A93.2 93.2 0 0 0 162 1632.6M168.3 1643.4A93.2 93.2 0 0 0 193.8 1668.9M204.6 1675.2A93.2 93.2 0 0 0 286.8 1675.2M297.6 1668.9A93.2 93.2 0 0 0 323.1 1643.4M329.4 1632.6A93.2 93.2 0 0 0 329.4 1550.4M323.1 1539.6A93.2 93.2 0 0 0 297.6 1514.1M286.8 1507.8A93.2 93.2 0 0 0 203.4 1508.4" fill="none" stroke="#000" stroke-width="1.05"/>
<path d="M245.5 1572.5L245.5 1498.2M236.2 1575L200.3 1512.9M229.2 1582L167.1 1546.1M226.7 1591.5L152.4 1591.5M229.2 1601L167.1 1636.9M236.2 1608L200.3 1670.1M245.5 1610.5L245.5 1684.8M255.2 1608L291.1 1670.1M262.2 1601L324.3 1636.9M264.7 1591.5L338.9 1591.5M262.2 1582L324.3 1546.1M255.2 1575L291.1 1512.9" fill="none" stroke="#000" stroke-width="1.05"/>
<path d="M245.7 1513.7 C241.7 1513.7 237.5 1513.9 233.5 1514.8 C229.6 1515.8 225.8 1517.3 222.3 1519.4 C218.7 1521.4 215.1 1524.1 212.1 1527.3 C209.1 1530.5 206.3 1534.4 204.2 1538.5 C202 1542.7 200.4 1547.2 199.2 1552.1 C198 1557 197.3 1563 197 1567.9 C196.6 1572.8 196.9 1577.5 197 1581.5 C197 1585.4 197 1588 197.4 1591.4 C197.9 1594.8 198.5 1598.2 199.7 1601.8 C200.8 1605.4 202.3 1609.5 204.2 1613.1 C206.1 1616.6 208.7 1620.4 211 1623.2 C213.2 1626 215.5 1628.4 217.7 1630 C220 1631.6 222.3 1632.1 224.5 1632.7 C226.8 1633.3 229.4 1633.2 231.3 1633.8 C233.2 1634.5 234.3 1635.7 235.8 1636.8 C237.3 1637.8 238.7 1639.3 240.3 1640.2 C242 1641 243.9 1641.7 245.7 1641.7 C247.5 1641.7 249.4 1641 251.1 1640.2 C252.7 1639.3 254.1 1637.8 255.6 1636.8 C257.1 1635.7 258.2 1634.5 260.1 1633.8 C262 1633.2 264.6 1633.3 266.9 1632.7 C269.1 1632.1 271.4 1631.6 273.7 1630 C275.9 1628.4 278.2 1626 280.4 1623.2 C282.7 1620.4 285.3 1616.6 287.2 1613.1 C289.1 1609.5 290.6 1605.4 291.7 1601.8 C292.9 1598.2 293.5 1594.8 294 1591.4 C294.4 1588 294.4 1585.4 294.4 1581.5 C294.5 1577.5 294.8 1572.8 294.4 1567.9 C294.1 1563 293.4 1557 292.2 1552.1 C291 1547.2 289.4 1542.7 287.2 1538.5 C285.1 1534.4 282.3 1530.5 279.3 1527.3 C276.3 1524.1 272.7 1521.4 269.1 1519.4 C265.6 1517.3 261.8 1515.8 257.9 1514.8 C254 1513.9 249.8 1513.7 245.7 1513.7Z" fill="none" stroke="#000" stroke-width="1.2" stroke-linejoin="round"/>
<path d="M245.7 1514.2 C240.9 1514.2 236.3 1514.7 231.3 1516 C226.2 1517.2 220.4 1519 215.5 1521.6 C210.6 1524.2 206.1 1527.8 201.9 1531.8 C197.8 1535.7 193.7 1540.4 190.6 1545.3 C187.6 1550.2 185.5 1555.9 183.9 1561.1 C182.3 1566.4 181.6 1571.9 181.2 1576.9 C180.7 1582 180.7 1586.5 180.9 1591.4 C181.2 1596.3 181.5 1601.2 182.7 1606.3 C184 1611.4 185.9 1617.2 188.4 1622.1 C190.8 1627 194 1631.5 197.4 1635.6 C200.8 1639.8 204.6 1643.7 208.7 1646.9 C212.8 1650.1 217.7 1653 222.3 1654.8 C226.8 1656.7 231.9 1657.5 235.8 1658.2 C239.7 1658.9 242.4 1658.9 245.7 1658.9 C249 1658.9 251.7 1658.9 255.6 1658.2 C259.5 1657.5 264.6 1656.7 269.1 1654.8 C273.7 1653 278.6 1650.1 282.7 1646.9 C286.8 1643.7 290.6 1639.8 294 1635.6 C297.4 1631.5 300.6 1627 303 1622.1 C305.5 1617.2 307.4 1611.4 308.7 1606.3 C309.9 1601.2 310.2 1596.3 310.5 1591.4 C310.7 1586.5 310.7 1582 310.2 1576.9 C309.8 1571.9 309.1 1566.4 307.5 1561.1 C305.9 1555.9 303.8 1550.2 300.8 1545.3 C297.7 1540.4 293.6 1535.7 289.5 1531.8 C285.3 1527.8 280.8 1524.2 275.9 1521.6 C271 1519 265.1 1517.2 260.1 1516 C255.1 1514.7 250.5 1514.2 245.7 1514.2Z" fill="none" stroke="#000" stroke-width="1.2" stroke-dasharray="4 2.65" stroke-linejoin="round"/>
<path d="M245.7 1514.2 C240.2 1514.2 234.5 1514.8 229 1516 C223.6 1517.1 218.5 1518.5 213.2 1520.9 C208 1523.4 202.3 1526.6 197.4 1530.6 C192.5 1534.7 187.6 1539.9 183.9 1545.3 C180.1 1550.8 176.9 1557.7 174.8 1563.4 C172.8 1569 172.1 1574.5 171.5 1579.2 C170.8 1583.9 170.8 1586.9 171 1591.4 C171.2 1595.9 171.4 1601 172.6 1606.3 C173.8 1611.6 175.6 1617.8 178.2 1623.2 C180.9 1628.7 184.4 1634.1 188.4 1639 C192.3 1643.9 197 1648.8 201.9 1652.6 C206.8 1656.3 212.5 1659.4 217.7 1661.6 C223 1663.8 228.9 1664.8 233.5 1665.7 C238.2 1666.5 241.7 1666.6 245.7 1666.6 C249.8 1666.6 253.2 1666.5 257.9 1665.7 C262.5 1664.8 268.4 1663.8 273.7 1661.6 C278.9 1659.4 284.6 1656.3 289.5 1652.6 C294.4 1648.8 299.1 1643.9 303 1639 C307 1634.1 310.5 1628.7 313.2 1623.2 C315.8 1617.8 317.6 1611.6 318.8 1606.3 C320 1601 320.2 1595.9 320.4 1591.4 C320.6 1586.9 320.6 1583.9 319.9 1579.2 C319.3 1574.5 318.6 1569 316.6 1563.4 C314.5 1557.7 311.3 1550.8 307.5 1545.3 C303.8 1539.9 298.9 1534.7 294 1530.6 C289.1 1526.6 283.4 1523.4 278.2 1520.9 C272.9 1518.5 267.8 1517.1 262.4 1516 C257 1514.8 251.3 1514.2 245.7 1514.2Z" fill="none" stroke="#000" stroke-width="1.2" stroke-dasharray="1.7 1" stroke-linejoin="round"/>
<text x="244.1" y="1579.2" font-size="6.4" text-anchor="end" fill="#111">-40</text>
<text x="244.1" y="1607.8" font-size="6.4" text-anchor="end" fill="#111">-40</text>
<text x="244.1" y="1564.4" font-size="6.4" text-anchor="end" fill="#111">-30</text>
<text x="244.1" y="1622.6" font-size="6.4" text-anchor="end" fill="#111">-30</text>
<text x="244.1" y="1549.5" font-size="6.4" text-anchor="end" fill="#111">-20</text>
<text x="244.1" y="1637.5" font-size="6.4" text-anchor="end" fill="#111">-20</text>
<text x="244.1" y="1534.7" font-size="6.4" text-anchor="end" fill="#111">-10</text>
<text x="244.1" y="1652.3" font-size="6.4" text-anchor="end" fill="#111">-10</text>
<text x="244.1" y="1519.8" font-size="6.4" text-anchor="end" fill="#111">0</text>
<text x="244.1" y="1667.2" font-size="6.4" text-anchor="end" fill="#111">0</text>
<text x="244.1" y="1505" font-size="6.4" text-anchor="end" fill="#111">10</text>
<text x="244.1" y="1682" font-size="6.4" text-anchor="end" fill="#111">10</text>
<text x="200" y="1513.1" font-size="6.4" text-anchor="middle" fill="#111">30°</text>
<text x="165.8" y="1547.3" font-size="6.4" text-anchor="middle" fill="#111">60°</text>
<text x="165.8" y="1640.5" font-size="6.4" text-anchor="middle" fill="#111">120°</text>
<text x="200" y="1674.7" font-size="6.4" text-anchor="middle" fill="#111">150°</text>
<text x="293.2" y="1674.7" font-size="6.4" text-anchor="middle" fill="#111">210°</text>
<text x="327.4" y="1640.5" font-size="6.4" text-anchor="middle" fill="#111">240°</text>
<text x="327.4" y="1547.3" font-size="6.4" text-anchor="middle" fill="#111">300°</text>
<text x="293.2" y="1513.1" font-size="6.4" text-anchor="middle" fill="#111">330°</text>
<text x="246.5" y="1496.8" font-size="6.4" text-anchor="middle" fill="#111">0°</text>
<text x="246.5" y="1690.5" font-size="6.4" text-anchor="middle" fill="#111">180°</text>
<text x="147.4" y="1598.1" font-size="6.4" fill="#111">90°</text>
<text x="344.9" y="1590.9" font-size="6.4" text-anchor="end" fill="#111">270°</text>
<path d="M277.6 1682.4H301.3" stroke="#000" stroke-width="1.05"/>
<text x="326.6" y="1684.5" font-size="7" text-anchor="end" fill="#111">2000Hz</text>
<path d="M277.6 1688.7H301.3" stroke="#000" stroke-width="1.05" stroke-dasharray="4 2.65"/>
<text x="326.6" y="1690.8" font-size="7" text-anchor="end" fill="#111">1000Hz</text>
<path d="M279.6 1695H301.3" stroke="#000" stroke-width="1.05" stroke-dasharray="1.7 1"/>
<text x="326.6" y="1697.1" font-size="7" text-anchor="end" fill="#111">500Hz</text>
<circle cx="449.6" cy="1591.5" r="19" fill="none" stroke="#000" stroke-width="1.05"/>
<circle cx="449.6" cy="1591.5" r="33.9" fill="none" stroke="#000" stroke-width="1.05"/>
<circle cx="449.6" cy="1591.5" r="48.7" fill="none" stroke="#000" stroke-width="1.05"/>
<circle cx="449.6" cy="1591.5" r="63.5" fill="none" stroke="#000" stroke-width="1.05"/>
<circle cx="449.6" cy="1591.5" r="78.4" fill="none" stroke="#000" stroke-width="1.05"/>
<path d="M398.8 1513.3A93.2 93.2 0 0 0 371.4 1540.7M366.5 1549.2A93.2 93.2 0 0 0 365.9 1632.6M372.2 1643.4A93.2 93.2 0 0 0 397.7 1668.9M408.5 1675.2A93.2 93.2 0 0 0 490.7 1675.2M501.5 1668.9A93.2 93.2 0 0 0 527 1643.4M533.3 1632.6A93.2 93.2 0 0 0 533.3 1550.4M527 1539.6A93.2 93.2 0 0 0 501.5 1514.1M490.7 1507.8A93.2 93.2 0 0 0 407.3 1508.4" fill="none" stroke="#000" stroke-width="1.05"/>
<path d="M449.5 1572.5L449.5 1498.2M440.1 1575L404.2 1512.9M433.1 1582L371 1546.1M430.6 1591.5L356.4 1591.5M433.1 1601L371 1636.9M440.1 1608L404.2 1670.1M449.5 1610.5L449.5 1684.8M459.1 1608L495 1670.1M466.1 1601L528.2 1636.9M468.6 1591.5L542.9 1591.5M466.1 1582L528.2 1546.1M459.1 1575L495 1512.9" fill="none" stroke="#000" stroke-width="1.05"/>
<path d="M449.6 1513.3 C446.7 1513.3 444 1513.7 440.9 1515.4 C437.8 1517 434 1520.6 430.8 1523.4 C427.6 1526.3 424.4 1530 421.7 1532.5 C419 1535 416.7 1536.2 414.7 1538.5 C412.7 1540.9 411.1 1543.3 409.6 1546.6 C408.1 1550 406.7 1554.7 405.6 1558.7 C404.5 1562.7 403.6 1566.8 403 1570.8 C402.4 1574.8 402.2 1579.4 402.2 1582.9 C402.1 1586.4 402.3 1588.2 402.6 1591.6 C402.8 1594.9 403 1599.1 403.6 1603.1 C404.2 1607 405.4 1611.1 406.2 1615.2 C407 1619.2 406.9 1624.4 408.6 1627.3 C410.4 1630.1 413.7 1631 416.7 1632.3 C419.7 1633.6 423.1 1634.3 426.8 1635.3 C430.5 1636.3 435.1 1637.7 438.9 1638.3 C442.7 1639 446 1639 449.6 1639 C453.1 1639 456.5 1639 460.3 1638.3 C464.1 1637.7 468.7 1636.3 472.4 1635.3 C476.1 1634.3 479.5 1633.6 482.5 1632.3 C485.5 1631 488.8 1630.1 490.6 1627.3 C492.3 1624.4 492.2 1619.2 493 1615.2 C493.8 1611.1 495 1607 495.6 1603.1 C496.2 1599.1 496.4 1594.9 496.6 1591.6 C496.9 1588.2 497.1 1586.4 497 1582.9 C497 1579.4 496.8 1574.8 496.2 1570.8 C495.6 1566.8 494.7 1562.7 493.6 1558.7 C492.5 1554.7 491.1 1550 489.6 1546.6 C488.1 1543.3 486.5 1540.9 484.5 1538.5 C482.5 1536.2 480.2 1535 477.5 1532.5 C474.8 1530 471.6 1526.3 468.4 1523.4 C465.2 1520.6 461.5 1517 458.3 1515.4 C455.2 1513.7 452.5 1513.3 449.6 1513.3Z" fill="none" stroke="#000" stroke-width="1.2" stroke-linejoin="round"/>
<path d="M449.6 1513.8 C446 1513.8 442.3 1513.9 438.9 1515.4 C435.4 1516.8 432.2 1519.4 428.8 1522.4 C425.4 1525.4 421.7 1529.8 418.7 1533.5 C415.7 1537.2 413 1540.4 410.6 1544.6 C408.3 1548.8 406.2 1554 404.6 1558.7 C403 1563.4 401.6 1568.5 401 1572.8 C400.3 1577.2 400.5 1581.8 400.6 1584.9 C400.7 1588 401.1 1588.5 401.6 1591.6 C402.1 1594.6 402.4 1599.1 403.6 1603.1 C404.8 1607 406.4 1611.3 408.6 1615.2 C410.8 1619 413.7 1623.2 416.7 1626.2 C419.7 1629.3 423.1 1631.6 426.8 1633.3 C430.5 1635 435.1 1635.7 438.9 1636.3 C442.7 1637 446 1637.3 449.6 1637.3 C453.1 1637.3 456.5 1637 460.3 1636.3 C464.1 1635.7 468.7 1635 472.4 1633.3 C476.1 1631.6 479.5 1629.3 482.5 1626.2 C485.5 1623.2 488.4 1619 490.6 1615.2 C492.8 1611.3 494.4 1607 495.6 1603.1 C496.8 1599.1 497.1 1594.6 497.6 1591.6 C498.1 1588.5 498.5 1588 498.6 1584.9 C498.7 1581.8 498.9 1577.2 498.2 1572.8 C497.6 1568.5 496.2 1563.4 494.6 1558.7 C493 1554 490.9 1548.8 488.6 1544.6 C486.2 1540.4 483.5 1537.2 480.5 1533.5 C477.5 1529.8 473.8 1525.4 470.4 1522.4 C467 1519.4 463.8 1516.8 460.3 1515.4 C456.9 1513.9 453.1 1513.8 449.6 1513.8Z" fill="none" stroke="#000" stroke-width="1.2" stroke-dasharray="4 2.65" stroke-linejoin="round"/>
<text x="448" y="1579.2" font-size="6.4" text-anchor="end" fill="#111">-40</text>
<text x="448" y="1607.8" font-size="6.4" text-anchor="end" fill="#111">-40</text>
<text x="448" y="1564.4" font-size="6.4" text-anchor="end" fill="#111">-30</text>
<text x="448" y="1622.6" font-size="6.4" text-anchor="end" fill="#111">-30</text>
<text x="448" y="1549.5" font-size="6.4" text-anchor="end" fill="#111">-20</text>
<text x="448" y="1637.5" font-size="6.4" text-anchor="end" fill="#111">-20</text>
<text x="448" y="1534.7" font-size="6.4" text-anchor="end" fill="#111">-10</text>
<text x="448" y="1652.3" font-size="6.4" text-anchor="end" fill="#111">-10</text>
<text x="448" y="1519.8" font-size="6.4" text-anchor="end" fill="#111">0</text>
<text x="448" y="1667.2" font-size="6.4" text-anchor="end" fill="#111">0</text>
<text x="448" y="1505" font-size="6.4" text-anchor="end" fill="#111">10</text>
<text x="448" y="1682" font-size="6.4" text-anchor="end" fill="#111">10</text>
<text x="403.9" y="1513.1" font-size="6.4" text-anchor="middle" fill="#111">30°</text>
<text x="369.7" y="1547.3" font-size="6.4" text-anchor="middle" fill="#111">60°</text>
<text x="369.7" y="1640.5" font-size="6.4" text-anchor="middle" fill="#111">120°</text>
<text x="403.9" y="1674.7" font-size="6.4" text-anchor="middle" fill="#111">150°</text>
<text x="497.1" y="1674.7" font-size="6.4" text-anchor="middle" fill="#111">210°</text>
<text x="531.3" y="1640.5" font-size="6.4" text-anchor="middle" fill="#111">240°</text>
<text x="531.3" y="1547.3" font-size="6.4" text-anchor="middle" fill="#111">300°</text>
<text x="497.1" y="1513.1" font-size="6.4" text-anchor="middle" fill="#111">330°</text>
<text x="450.4" y="1496.8" font-size="6.4" text-anchor="middle" fill="#111">0°</text>
<text x="450.4" y="1690.5" font-size="6.4" text-anchor="middle" fill="#111">180°</text>
<text x="351.4" y="1598.1" font-size="6.4" fill="#111">90°</text>
<text x="548.9" y="1590.9" font-size="6.4" text-anchor="end" fill="#111">270°</text>
<path d="M481.4 1688.7H505.2" stroke="#000" stroke-width="1.05"/>
<text x="531" y="1690.8" font-size="7" text-anchor="end" fill="#111">8000Hz</text>
<path d="M481.4 1694.7H505.2" stroke="#000" stroke-width="1.05" stroke-dasharray="4 2.65"/>
<text x="531" y="1696.8" font-size="7" text-anchor="end" fill="#111">4000Hz</text>
<circle cx="785.7" cy="1591.5" r="19" fill="none" stroke="#000" stroke-width="1.05"/>
<circle cx="785.7" cy="1591.5" r="33.9" fill="none" stroke="#000" stroke-width="1.05"/>
<circle cx="785.7" cy="1591.5" r="48.7" fill="none" stroke="#000" stroke-width="1.05"/>
<circle cx="785.7" cy="1591.5" r="63.5" fill="none" stroke="#000" stroke-width="1.05"/>
<circle cx="785.7" cy="1591.5" r="78.4" fill="none" stroke="#000" stroke-width="1.05"/>
<path d="M734.9 1513.3A93.2 93.2 0 0 0 707.5 1540.7M702.6 1549.2A93.2 93.2 0 0 0 702 1632.6M708.3 1643.4A93.2 93.2 0 0 0 733.8 1668.9M744.6 1675.2A93.2 93.2 0 0 0 826.8 1675.2M837.6 1668.9A93.2 93.2 0 0 0 863.1 1643.4M869.4 1632.6A93.2 93.2 0 0 0 869.4 1550.4M863.1 1539.6A93.2 93.2 0 0 0 837.6 1514.1M826.8 1507.8A93.2 93.2 0 0 0 743.4 1508.4" fill="none" stroke="#000" stroke-width="1.05"/>
<path d="M785.5 1572.5L785.5 1498.2M776.2 1575L740.3 1512.9M769.2 1582L707.1 1546.1M766.7 1591.5L692.5 1591.5M769.2 1601L707.1 1636.9M776.2 1608L740.3 1670.1M785.5 1610.5L785.5 1684.8M795.2 1608L831.1 1670.1M802.2 1601L864.3 1636.9M804.7 1591.5L879 1591.5M802.2 1582L864.3 1546.1M795.2 1575L831.1 1512.9" fill="none" stroke="#000" stroke-width="1.05"/>
<path d="M785.7 1514 C781.7 1514 777.8 1514 773.5 1515.2 C769.3 1516.3 764.3 1518.4 760 1520.8 C755.7 1523.3 751 1526.3 747.6 1529.8 C744.2 1533.4 741.7 1537.6 739.7 1542.3 C737.6 1547 736 1552.8 735.2 1558.1 C734.3 1563.3 734.4 1568.3 734.5 1573.9 C734.6 1579.4 734.9 1586.2 735.6 1591.5 C736.3 1596.8 737.1 1601.1 738.5 1605.5 C740 1609.9 741.7 1614 744.2 1617.9 C746.6 1621.9 749.8 1626 753.2 1629.2 C756.6 1632.4 761.7 1635.2 764.5 1637.1 C767.3 1639 768.3 1639.4 770.2 1640.5 C772 1641.6 773.2 1643.2 775.8 1643.9 C778.4 1644.5 782.4 1644.5 785.7 1644.5 C789 1644.5 793 1644.5 795.6 1643.9 C798.2 1643.2 799.4 1641.6 801.2 1640.5 C803.1 1639.4 804.1 1639 806.9 1637.1 C809.7 1635.2 814.8 1632.4 818.2 1629.2 C821.6 1626 824.8 1621.9 827.2 1617.9 C829.7 1614 831.4 1609.9 832.9 1605.5 C834.3 1601.1 835.1 1596.8 835.8 1591.5 C836.5 1586.2 836.8 1579.4 836.9 1573.9 C837 1568.3 837.1 1563.3 836.2 1558.1 C835.4 1552.8 833.8 1547 831.7 1542.3 C829.7 1537.6 827.2 1533.4 823.8 1529.8 C820.4 1526.3 815.7 1523.3 811.4 1520.8 C807.1 1518.4 802.1 1516.3 797.9 1515.2 C793.6 1514 789.8 1514 785.7 1514Z" fill="none" stroke="#000" stroke-width="1.2" stroke-linejoin="round"/>
<path d="M785.7 1514.5 C780.2 1514.5 774.5 1515 769 1516.3 C763.6 1517.6 758.1 1519.8 753.2 1522.4 C748.3 1525 743.8 1528 739.7 1532.1 C735.5 1536.2 731.3 1541.3 728.4 1546.8 C725.5 1552.2 723.4 1558.8 722.1 1564.8 C720.7 1570.9 720.6 1577.6 720.5 1582.9 C720.4 1588.2 720.9 1591.9 721.6 1596.5 C722.4 1601 723.5 1605.5 725 1610 C726.5 1614.5 728.2 1619.4 730.6 1623.5 C733.1 1627.7 736.3 1631.3 739.7 1634.8 C743.1 1638.4 746.8 1641.9 751 1645 C755.1 1648.1 760.4 1651.3 764.5 1653.4 C768.7 1655.4 772.3 1656.5 775.8 1657.4 C779.3 1658.4 782.4 1659 785.7 1659 C789 1659 792.1 1658.4 795.6 1657.4 C799.1 1656.5 802.7 1655.4 806.9 1653.4 C811 1651.3 816.3 1648.1 820.4 1645 C824.6 1641.9 828.3 1638.4 831.7 1634.8 C835.1 1631.3 838.3 1627.7 840.8 1623.5 C843.2 1619.4 844.9 1614.5 846.4 1610 C847.9 1605.5 849 1601 849.8 1596.5 C850.5 1591.9 851 1588.2 850.9 1582.9 C850.8 1577.6 850.7 1570.9 849.3 1564.8 C848 1558.8 845.9 1552.2 843 1546.8 C840.1 1541.3 835.9 1536.2 831.7 1532.1 C827.6 1528 823.1 1525 818.2 1522.4 C813.3 1519.8 807.8 1517.6 802.4 1516.3 C797 1515 791.3 1514.5 785.7 1514.5Z" fill="none" stroke="#000" stroke-width="1.2" stroke-dasharray="4 2.65" stroke-linejoin="round"/>
<path d="M785.7 1514.5 C779.4 1514.5 772.9 1514.7 766.8 1516.3 C760.6 1517.9 754.4 1521 748.7 1524.2 C743.1 1527.4 737.4 1531.3 732.9 1535.5 C728.4 1539.6 724.8 1543.8 721.6 1549 C718.4 1554.3 715.4 1561.5 713.7 1567.1 C712 1572.7 711.8 1577.6 711.5 1582.9 C711.1 1588.2 710.9 1593.1 711.5 1598.7 C712 1604.4 712.8 1610.8 714.8 1616.8 C716.9 1622.8 720.5 1629.6 723.9 1634.8 C727.3 1640.1 730.6 1644.2 735.2 1648.4 C739.7 1652.5 745.3 1656.7 751 1659.7 C756.6 1662.6 763.2 1664.7 769 1666 C774.8 1667.3 780.2 1667.6 785.7 1667.6 C791.3 1667.6 796.6 1667.3 802.4 1666 C808.2 1664.7 814.8 1662.6 820.4 1659.7 C826.1 1656.7 831.7 1652.5 836.2 1648.4 C840.8 1644.2 844.1 1640.1 847.5 1634.8 C850.9 1629.6 854.5 1622.8 856.6 1616.8 C858.6 1610.8 859.4 1604.4 859.9 1598.7 C860.5 1593.1 860.3 1588.2 859.9 1582.9 C859.6 1577.6 859.4 1572.7 857.7 1567.1 C856 1561.5 853 1554.3 849.8 1549 C846.6 1543.8 843 1539.6 838.5 1535.5 C834 1531.3 828.3 1527.4 822.7 1524.2 C817 1521 810.8 1517.9 804.6 1516.3 C798.5 1514.7 792 1514.5 785.7 1514.5Z" fill="none" stroke="#000" stroke-width="1.2" stroke-dasharray="1.7 1" stroke-linejoin="round"/>
<text x="784.1" y="1579.2" font-size="6.4" text-anchor="end" fill="#111">-40</text>
<text x="784.1" y="1607.8" font-size="6.4" text-anchor="end" fill="#111">-40</text>
<text x="784.1" y="1564.4" font-size="6.4" text-anchor="end" fill="#111">-30</text>
<text x="784.1" y="1622.6" font-size="6.4" text-anchor="end" fill="#111">-30</text>
<text x="784.1" y="1549.5" font-size="6.4" text-anchor="end" fill="#111">-20</text>
<text x="784.1" y="1637.5" font-size="6.4" text-anchor="end" fill="#111">-20</text>
<text x="784.1" y="1534.7" font-size="6.4" text-anchor="end" fill="#111">-10</text>
<text x="784.1" y="1652.3" font-size="6.4" text-anchor="end" fill="#111">-10</text>
<text x="784.1" y="1519.8" font-size="6.4" text-anchor="end" fill="#111">0</text>
<text x="784.1" y="1667.2" font-size="6.4" text-anchor="end" fill="#111">0</text>
<text x="784.1" y="1505" font-size="6.4" text-anchor="end" fill="#111">10</text>
<text x="784.1" y="1682" font-size="6.4" text-anchor="end" fill="#111">10</text>
<text x="740" y="1513.1" font-size="6.4" text-anchor="middle" fill="#111">30°</text>
<text x="705.8" y="1547.3" font-size="6.4" text-anchor="middle" fill="#111">60°</text>
<text x="705.8" y="1640.5" font-size="6.4" text-anchor="middle" fill="#111">120°</text>
<text x="740" y="1674.7" font-size="6.4" text-anchor="middle" fill="#111">150°</text>
<text x="833.2" y="1674.7" font-size="6.4" text-anchor="middle" fill="#111">210°</text>
<text x="867.4" y="1640.5" font-size="6.4" text-anchor="middle" fill="#111">240°</text>
<text x="867.4" y="1547.3" font-size="6.4" text-anchor="middle" fill="#111">300°</text>
<text x="833.2" y="1513.1" font-size="6.4" text-anchor="middle" fill="#111">330°</text>
<text x="786.5" y="1496.8" font-size="6.4" text-anchor="middle" fill="#111">0°</text>
<text x="786.5" y="1690.5" font-size="6.4" text-anchor="middle" fill="#111">180°</text>
<text x="687.5" y="1598.1" font-size="6.4" fill="#111">90°</text>
<text x="885" y="1590.9" font-size="6.4" text-anchor="end" fill="#111">270°</text>
<path d="M818.4 1682.5H841.5" stroke="#000" stroke-width="1.05"/>
<text x="867" y="1684.6" font-size="7" text-anchor="end" fill="#111">2000Hz</text>
<path d="M818.4 1688.7H841.5" stroke="#000" stroke-width="1.05" stroke-dasharray="4 2.65"/>
<text x="867" y="1690.8" font-size="7" text-anchor="end" fill="#111">1000Hz</text>
<path d="M820.4 1694.9H841.5" stroke="#000" stroke-width="1.05" stroke-dasharray="1.7 1"/>
<text x="867" y="1697" font-size="7" text-anchor="end" fill="#111">500Hz</text>
<circle cx="990.4" cy="1591.5" r="19" fill="none" stroke="#000" stroke-width="1.05"/>
<circle cx="990.4" cy="1591.5" r="33.9" fill="none" stroke="#000" stroke-width="1.05"/>
<circle cx="990.4" cy="1591.5" r="48.7" fill="none" stroke="#000" stroke-width="1.05"/>
<circle cx="990.4" cy="1591.5" r="63.5" fill="none" stroke="#000" stroke-width="1.05"/>
<circle cx="990.4" cy="1591.5" r="78.4" fill="none" stroke="#000" stroke-width="1.05"/>
<path d="M939.6 1513.3A93.2 93.2 0 0 0 912.2 1540.7M907.3 1549.2A93.2 93.2 0 0 0 906.7 1632.6M913 1643.4A93.2 93.2 0 0 0 938.5 1668.9M949.3 1675.2A93.2 93.2 0 0 0 1031.5 1675.2M1042.3 1668.9A93.2 93.2 0 0 0 1067.8 1643.4M1074.1 1632.6A93.2 93.2 0 0 0 1074.1 1550.4M1067.8 1539.6A93.2 93.2 0 0 0 1042.3 1514.1M1031.5 1507.8A93.2 93.2 0 0 0 948.1 1508.4" fill="none" stroke="#000" stroke-width="1.05"/>
<path d="M990.5 1572.5L990.5 1498.2M980.9 1575L945 1512.9M973.9 1582L911.8 1546.1M971.4 1591.5L897.1 1591.5M973.9 1601L911.8 1636.9M980.9 1608L945 1670.1M990.5 1610.5L990.5 1684.8M999.9 1608L1035.8 1670.1M1006.9 1601L1069 1636.9M1009.4 1591.5L1083.7 1591.5M1006.9 1582L1069 1546.1M999.9 1575L1035.8 1512.9" fill="none" stroke="#000" stroke-width="1.05"/>
<path d="M990.4 1513.3 C987.2 1513.3 984.5 1515.2 980.9 1517.4 C977.3 1519.6 972.8 1523.6 968.8 1526.5 C964.8 1529.3 960.1 1531.8 956.7 1534.5 C953.3 1537.2 951 1539.6 948.6 1542.6 C946.3 1545.6 944.4 1549 942.6 1552.7 C940.7 1556.4 939.1 1560.4 937.5 1564.8 C936 1569.1 934.5 1574.4 933.5 1578.9 C932.5 1583.3 931.7 1587.5 931.5 1591.6 C931.3 1595.6 931.8 1599.5 932.5 1603.1 C933.2 1606.7 934 1610.1 935.5 1613.1 C937 1616.2 939.1 1618.2 941.6 1621.2 C944.1 1624.2 947.5 1628.4 950.6 1631.3 C953.8 1634.1 957.4 1636.3 960.7 1638.3 C964.1 1640.4 967.8 1641.9 970.8 1643.4 C973.8 1644.9 976.5 1646.5 978.9 1647.4 C981.2 1648.4 983 1648.6 984.9 1649 C986.8 1649.5 988.5 1650 990.4 1650 C992.2 1650 994 1649.5 995.9 1649 C997.8 1648.6 999.6 1648.4 1001.9 1647.4 C1004.3 1646.5 1007 1644.9 1010 1643.4 C1013 1641.9 1016.7 1640.4 1020.1 1638.3 C1023.4 1636.3 1027 1634.1 1030.2 1631.3 C1033.3 1628.4 1036.7 1624.2 1039.2 1621.2 C1041.7 1618.2 1043.8 1616.2 1045.3 1613.1 C1046.8 1610.1 1047.6 1606.7 1048.3 1603.1 C1049 1599.5 1049.5 1595.6 1049.3 1591.6 C1049.1 1587.5 1048.3 1583.3 1047.3 1578.9 C1046.3 1574.4 1044.8 1569.1 1043.3 1564.8 C1041.7 1560.4 1040.1 1556.4 1038.2 1552.7 C1036.4 1549 1034.5 1545.6 1032.2 1542.6 C1029.8 1539.6 1027.5 1537.2 1024.1 1534.5 C1020.7 1531.8 1016 1529.3 1012 1526.5 C1008 1523.6 1003.5 1519.6 999.9 1517.4 C996.3 1515.2 993.5 1513.3 990.4 1513.3Z" fill="none" stroke="#000" stroke-width="1.2" stroke-linejoin="round"/>
<path d="M990.4 1513.8 C986.5 1513.8 982.5 1515.8 978.9 1518.4 C975.3 1521 972.2 1526.8 968.8 1529.5 C965.4 1532.2 961.9 1532.5 958.7 1534.5 C955.5 1536.5 952.2 1538.5 949.6 1541.6 C947.1 1544.6 945.3 1548.8 943.6 1552.7 C941.9 1556.5 940.6 1560.7 939.6 1564.8 C938.5 1568.8 937.4 1573.2 937.5 1576.9 C937.7 1580.6 939.9 1584.5 940.6 1586.9 C941.2 1589.4 941.2 1589.2 941.6 1591.6 C942 1593.9 942.9 1597.5 943 1601 C943.1 1604.6 942.2 1609.8 942.2 1613.1 C942.1 1616.5 941.2 1618.4 942.6 1621.2 C944 1624.1 947.6 1627.6 950.6 1630.3 C953.7 1633 957.4 1635.4 960.7 1637.3 C964.1 1639.3 967.4 1640.8 970.8 1641.8 C974.2 1642.8 977.6 1643.1 980.9 1643.4 C984.1 1643.7 987.2 1643.8 990.4 1643.8 C993.5 1643.8 996.6 1643.7 999.9 1643.4 C1003.2 1643.1 1006.6 1642.8 1010 1641.8 C1013.4 1640.8 1016.7 1639.3 1020.1 1637.3 C1023.4 1635.4 1027.1 1633 1030.2 1630.3 C1033.2 1627.6 1036.8 1624.1 1038.2 1621.2 C1039.6 1618.4 1038.7 1616.5 1038.6 1613.1 C1038.6 1609.8 1037.7 1604.6 1037.8 1601 C1037.9 1597.5 1038.8 1593.9 1039.2 1591.6 C1039.6 1589.2 1039.6 1589.4 1040.2 1586.9 C1040.9 1584.5 1043.1 1580.6 1043.3 1576.9 C1043.4 1573.2 1042.3 1568.8 1041.2 1564.8 C1040.2 1560.7 1038.9 1556.5 1037.2 1552.7 C1035.5 1548.8 1033.7 1544.6 1031.2 1541.6 C1028.6 1538.5 1025.3 1536.5 1022.1 1534.5 C1018.9 1532.5 1015.4 1532.2 1012 1529.5 C1008.6 1526.8 1005.5 1521 1001.9 1518.4 C998.3 1515.8 994.2 1513.8 990.4 1513.8Z" fill="none" stroke="#000" stroke-width="1.2" stroke-dasharray="4 2.65" stroke-linejoin="round"/>
<text x="988.8" y="1579.2" font-size="6.4" text-anchor="end" fill="#111">-40</text>
<text x="988.8" y="1607.8" font-size="6.4" text-anchor="end" fill="#111">-40</text>
<text x="988.8" y="1564.4" font-size="6.4" text-anchor="end" fill="#111">-30</text>
<text x="988.8" y="1622.6" font-size="6.4" text-anchor="end" fill="#111">-30</text>
<text x="988.8" y="1549.5" font-size="6.4" text-anchor="end" fill="#111">-20</text>
<text x="988.8" y="1637.5" font-size="6.4" text-anchor="end" fill="#111">-20</text>
<text x="988.8" y="1534.7" font-size="6.4" text-anchor="end" fill="#111">-10</text>
<text x="988.8" y="1652.3" font-size="6.4" text-anchor="end" fill="#111">-10</text>
<text x="988.8" y="1519.8" font-size="6.4" text-anchor="end" fill="#111">0</text>
<text x="988.8" y="1667.2" font-size="6.4" text-anchor="end" fill="#111">0</text>
<text x="988.8" y="1505" font-size="6.4" text-anchor="end" fill="#111">10</text>
<text x="988.8" y="1682" font-size="6.4" text-anchor="end" fill="#111">10</text>
<text x="944.7" y="1513.1" font-size="6.4" text-anchor="middle" fill="#111">30°</text>
<text x="910.5" y="1547.3" font-size="6.4" text-anchor="middle" fill="#111">60°</text>
<text x="910.5" y="1640.5" font-size="6.4" text-anchor="middle" fill="#111">120°</text>
<text x="944.7" y="1674.7" font-size="6.4" text-anchor="middle" fill="#111">150°</text>
<text x="1037.9" y="1674.7" font-size="6.4" text-anchor="middle" fill="#111">210°</text>
<text x="1072.1" y="1640.5" font-size="6.4" text-anchor="middle" fill="#111">240°</text>
<text x="1072.1" y="1547.3" font-size="6.4" text-anchor="middle" fill="#111">300°</text>
<text x="1037.9" y="1513.1" font-size="6.4" text-anchor="middle" fill="#111">330°</text>
<text x="991.2" y="1496.8" font-size="6.4" text-anchor="middle" fill="#111">0°</text>
<text x="991.2" y="1690.5" font-size="6.4" text-anchor="middle" fill="#111">180°</text>
<text x="892.1" y="1598.1" font-size="6.4" fill="#111">90°</text>
<text x="1089.7" y="1590.9" font-size="6.4" text-anchor="end" fill="#111">270°</text>
<path d="M1022 1688.7H1045.6" stroke="#000" stroke-width="1.05"/>
<text x="1071" y="1690.8" font-size="7" text-anchor="end" fill="#111">8000Hz</text>
<path d="M1022 1694.7H1045.6" stroke="#000" stroke-width="1.05" stroke-dasharray="4 2.65"/>
<text x="1071" y="1696.8" font-size="7" text-anchor="end" fill="#111">4000Hz</text>
</svg></body></html>
